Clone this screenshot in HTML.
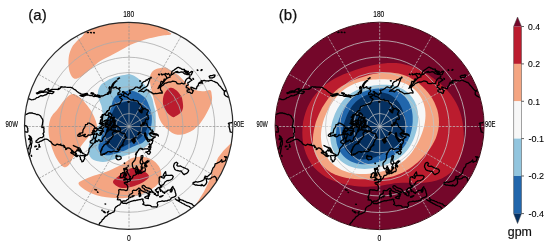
<!DOCTYPE html>
<html><head><meta charset="utf-8"><title>figure</title>
<style>
html,body{margin:0;padding:0;background:#fff;}
body{width:550px;height:248px;overflow:hidden;}
svg{display:block;}
text{font-family:"Liberation Sans",sans-serif;fill:#222;}
.lb{font-size:9px;fill:#000;stroke:#000;stroke-width:0.15px;}
.cb{font-size:8.8px;fill:#000;stroke:#000;stroke-width:0.1px;}
.ti{font-size:15px;fill:#111;stroke:#111;stroke-width:0.25px;}
.gp{font-size:12.4px;fill:#111;stroke:#111;stroke-width:0.2px;}
</style></head><body>
<svg width="550" height="248" viewBox="0 0 550 248">
<defs>
<clipPath id="ca"><ellipse cx="128.7" cy="125.85" rx="104.2" ry="103.5"/></clipPath>
<clipPath id="cb"><ellipse cx="379.6" cy="125.9" rx="104.5" ry="103.7"/></clipPath>
</defs>
<rect width="550" height="248" fill="#ffffff"/>
<g clip-path="url(#ca)">
<ellipse cx="128.7" cy="125.85" rx="104.2" ry="103.5" fill="#f7f7f7"/>
<path d="M84.8,32.1 C84.2,36.1 78.4,39.3 76.3,41.8 C74.2,44.3 73.3,44.8 72.1,47.0 C70.9,49.2 69.7,52.1 69.1,55.1 C68.5,58.1 68.3,62.2 68.5,65.2 C68.7,68.2 69.2,71.0 70.1,73.2 C71.0,75.4 72.4,77.9 74.1,78.6 C75.8,79.3 78.2,78.3 80.2,77.3 C82.2,76.3 84.2,74.4 86.2,72.8 C88.2,71.2 90.0,69.5 92.3,67.5 C94.6,65.5 97.3,62.9 100.3,61.0 C103.2,59.1 106.5,57.8 110.0,56.0 C113.5,54.2 117.7,51.8 121.0,50.0 C124.3,48.2 126.8,46.5 130.0,45.0 C133.2,43.5 136.8,42.4 140.0,41.3 C143.2,40.2 145.8,39.2 149.4,38.3 C153.0,37.4 157.9,36.4 161.5,35.7 C165.1,35.0 170.4,35.2 171.2,34.0 C172.0,32.8 166.5,31.7 166.3,28.5 C166.1,25.3 176.4,18.4 170.0,15.0 C163.6,11.6 143.0,7.5 128.0,8.0 C113.0,8.5 87.2,14.0 80.0,18.0 C72.8,22.0 85.4,28.1 84.8,32.1Z" fill="#f4a582"/>
<path d="M71.5,94.2 C73.9,93.6 76.3,95.0 78.7,96.6 C81.1,98.2 83.8,101.3 86.0,103.9 C88.2,106.5 90.4,109.6 92.0,112.4 C93.6,115.2 94.9,118.2 95.7,120.8 C96.5,123.4 97.2,126.1 96.9,128.0 C96.6,129.9 95.0,130.9 94.0,132.0 C93.0,133.1 92.7,132.5 90.8,134.5 C88.9,136.5 85.2,140.6 82.4,144.2 C79.6,147.8 76.1,152.9 73.9,156.3 C71.7,159.7 70.6,163.0 69.0,164.8 C67.4,166.6 66.0,167.8 64.2,167.2 C62.4,166.6 60.0,163.8 58.2,161.2 C56.4,158.6 54.7,155.1 53.3,151.5 C51.9,147.9 50.5,143.0 49.7,139.4 C48.9,135.8 48.5,132.9 48.5,129.7 C48.5,126.5 49.3,122.5 50.0,120.0 C50.7,117.5 51.3,116.7 52.5,115.0 C53.7,113.3 55.0,112.5 57.0,110.0 C59.0,107.5 61.8,102.9 64.2,100.3 C66.6,97.7 69.1,94.8 71.5,94.2Z" fill="#f4a582"/>
<path d="M159.4,68.3 C161.3,67.8 163.2,67.2 165.0,67.5 C166.8,67.8 167.8,68.7 170.0,70.0 C172.2,71.3 175.8,73.2 178.1,75.1 C180.4,76.9 182.1,79.1 184.1,81.1 C186.1,83.1 188.2,85.7 190.2,87.2 C192.2,88.7 193.8,89.5 196.2,90.2 C198.5,90.9 202.0,91.2 204.3,91.2 C206.7,91.2 209.1,89.5 210.3,90.2 C211.6,90.9 211.5,93.6 211.8,95.2 C212.1,96.8 212.2,98.4 212.0,100.0 C211.8,101.6 211.2,103.3 210.6,105.0 C210.0,106.7 209.1,108.4 208.3,110.0 C207.5,111.6 206.8,113.0 205.8,114.7 C204.8,116.4 203.6,118.4 202.5,120.0 C201.4,121.6 200.5,123.2 199.4,124.4 C198.3,125.7 197.1,126.5 196.0,127.5 C194.9,128.5 194.2,129.5 192.9,130.3 C191.7,131.1 189.8,131.9 188.5,132.5 C187.2,133.1 186.2,133.6 184.8,134.0 C183.4,134.4 181.8,134.8 180.0,134.8 C178.2,134.8 176.3,135.0 173.9,133.8 C171.5,132.6 167.7,129.8 165.4,127.5 C163.1,125.2 161.5,123.2 160.0,120.0 C158.5,116.8 157.7,112.4 156.5,108.4 C155.3,104.5 154.0,100.3 153.0,96.3 C152.0,92.3 150.8,87.6 150.3,84.2 C149.8,80.8 149.7,78.3 150.2,76.0 C150.7,73.7 152.0,71.8 153.5,70.5 C155.0,69.2 157.5,68.8 159.4,68.3Z" fill="#f4a582"/>
<path d="M78.5,183.0 C78.9,181.6 81.9,180.8 84.5,179.6 C87.1,178.4 90.6,176.9 94.2,175.6 C97.8,174.3 102.3,173.4 106.3,171.8 C110.3,170.2 115.3,167.8 118.4,166.3 C121.5,164.8 122.7,164.2 125.0,162.8 C127.3,161.4 128.9,159.0 132.1,158.0 C135.3,157.0 140.6,156.5 144.2,157.0 C147.8,157.5 151.3,159.0 153.9,160.9 C156.5,162.8 158.8,165.6 160.0,168.2 C161.2,170.8 161.6,173.9 161.2,176.6 C160.8,179.3 159.5,182.2 157.5,184.5 C155.5,186.8 152.0,188.8 149.0,190.5 C146.0,192.2 142.6,193.8 139.4,195.0 C136.2,196.2 132.9,196.9 129.7,197.5 C126.5,198.1 123.1,198.2 120.0,198.3 C116.9,198.4 114.3,198.1 111.2,197.8 C108.1,197.5 104.7,197.2 101.5,196.5 C98.3,195.8 95.0,194.9 91.8,193.5 C88.6,192.1 84.3,189.6 82.1,187.8 C79.9,186.1 78.1,184.4 78.5,183.0Z" fill="#f4a582"/>
<polygon points="229.6,144.5 223.6,150.6 218,157.8 214.6,166.3 212.3,172 209.7,179.7 206.2,187 203.9,191.8 197.8,201.5 195.2,205.5 215,215 240,170 236,140" fill="#f4a582"/>
<path d="M170.3,87.8 C172.3,87.2 174.5,88.9 176.3,90.3 C178.1,91.7 180.1,94.5 181.2,96.3 C182.2,98.1 182.3,99.5 182.6,101.3 C182.9,103.1 183.2,105.4 183.1,107.0 C183.0,108.6 182.5,110.0 182.0,111.0 C181.5,112.0 181.0,112.5 180.0,113.3 C179.0,114.1 177.2,115.4 176.0,116.0 C174.8,116.6 174.3,117.6 172.7,116.9 C171.1,116.2 168.2,114.2 166.6,112.0 C165.0,109.8 163.4,106.6 163.0,103.6 C162.6,100.6 163.0,96.5 164.2,93.9 C165.4,91.3 168.3,88.4 170.3,87.8Z" fill="#bb1c2e"/>
<path d="M113.0,182.0 C113.0,180.2 116.4,177.9 118.4,176.2 C120.4,174.5 122.7,173.4 125.0,172.0 C127.3,170.6 129.2,168.3 132.0,168.0 C134.8,167.7 139.0,168.7 141.8,170.0 C144.6,171.3 148.6,174.1 149.0,176.0 C149.4,177.9 146.6,179.8 144.2,181.5 C141.8,183.2 137.7,184.9 134.5,186.0 C131.3,187.1 127.7,187.8 125.0,188.0 C122.3,188.2 120.4,188.0 118.4,187.0 C116.4,186.0 113.0,183.8 113.0,182.0Z" fill="#bb1c2e"/>
<path d="M130.0,74.3 C132.0,74.6 134.0,75.8 136.0,77.1 C138.0,78.4 140.3,80.1 142.1,81.9 C143.9,83.7 145.6,86.0 146.9,88.0 C148.2,90.0 149.1,92.2 150.0,94.0 C150.9,95.8 151.9,97.2 152.5,99.0 C153.1,100.8 153.2,102.8 153.7,105.0 C154.2,107.2 155.1,109.7 155.4,112.0 C155.7,114.3 155.7,116.7 155.7,119.0 C155.7,121.3 155.7,123.8 155.4,126.0 C155.1,128.2 154.4,130.1 153.7,132.1 C153.0,134.1 152.0,136.2 151.2,138.1 C150.4,140.0 150.1,141.9 148.9,143.5 C147.7,145.1 145.9,146.3 144.1,147.5 C142.3,148.7 140.0,149.6 138.0,150.5 C136.0,151.4 134.2,152.1 132.2,152.9 C130.2,153.7 128.1,154.5 126.1,155.2 C124.1,155.9 122.1,156.6 120.1,157.3 C118.1,158.0 116.0,158.6 114.0,159.3 C112.0,160.0 109.8,160.9 108.0,161.3 C106.2,161.8 104.7,162.0 103.0,162.0 C101.3,162.0 99.8,161.8 98.0,161.3 C96.2,160.9 93.9,160.3 92.5,159.3 C91.1,158.3 90.2,157.1 89.5,155.5 C88.8,153.9 88.5,151.9 88.5,150.0 C88.5,148.1 88.8,146.0 89.3,144.0 C89.8,142.0 90.5,140.2 91.5,138.0 C92.5,135.8 93.9,133.7 95.5,131.0 C97.1,128.3 99.8,124.8 101.0,122.0 C102.2,119.2 102.4,116.7 102.5,114.0 C102.6,111.3 102.1,108.5 101.5,106.0 C100.9,103.5 99.4,101.2 98.8,99.0 C98.2,96.8 97.5,95.0 97.8,92.7 C98.1,90.5 98.9,87.5 100.5,85.5 C102.1,83.5 104.8,82.0 107.3,80.5 C109.8,79.0 112.9,77.7 115.7,76.8 C118.5,75.9 121.8,75.4 124.2,75.0 C126.6,74.6 128.0,74.0 130.0,74.3Z" fill="#92c5de"/>
<path d="M130.0,90.5 C131.6,90.6 133.9,91.1 135.6,91.7 C137.3,92.3 138.3,92.8 140.0,94.0 C141.7,95.2 144.2,96.8 145.7,98.6 C147.1,100.4 147.8,102.5 148.7,104.7 C149.6,106.9 150.7,109.5 151.2,111.9 C151.7,114.3 151.9,116.9 151.9,119.2 C151.9,121.5 151.6,123.8 151.2,126.0 C150.8,128.2 149.9,130.1 149.2,132.1 C148.5,134.1 148.1,136.4 147.1,138.1 C146.1,139.8 144.4,141.3 142.9,142.4 C141.4,143.5 139.8,143.8 138.0,144.6 C136.2,145.4 134.2,146.2 132.2,147.1 C130.2,148.0 128.1,149.2 126.1,150.1 C124.1,151.0 122.1,151.8 120.1,152.5 C118.1,153.2 116.1,153.5 114.0,154.0 C111.9,154.5 109.8,155.3 107.7,155.3 C105.7,155.3 103.2,155.0 101.7,154.1 C100.2,153.2 99.2,151.3 98.7,149.8 C98.2,148.3 98.4,146.6 98.7,145.0 C99.0,143.4 99.7,142.7 100.5,140.2 C101.3,137.7 102.5,133.2 103.5,130.2 C104.5,127.2 105.5,124.9 106.5,122.0 C107.5,119.1 108.7,115.7 109.5,113.0 C110.3,110.3 110.9,108.2 111.5,106.0 C112.1,103.8 112.4,101.5 113.0,100.0 C113.6,98.5 114.2,97.9 115.0,97.0 C115.8,96.1 116.8,95.2 118.0,94.5 C119.2,93.8 120.7,93.1 122.0,92.6 C123.3,92.1 124.7,91.6 126.0,91.3 C127.3,91.0 128.4,90.4 130.0,90.5Z" fill="#2166ac"/>
<path d="M128.3,101.3 C130.7,101.1 133.3,101.4 135.6,102.0 C137.9,102.6 140.2,103.0 142.1,104.7 C144.0,106.4 145.9,109.5 146.9,111.9 C147.9,114.3 148.1,116.9 148.3,119.2 C148.5,121.5 148.4,123.8 147.9,126.0 C147.4,128.2 146.6,130.3 145.5,132.1 C144.4,133.9 142.5,135.6 141.1,136.9 C139.7,138.2 138.3,139.2 136.8,140.0 C135.3,140.8 134.0,140.8 132.2,141.7 C130.4,142.6 128.1,144.2 126.1,145.3 C124.1,146.4 122.1,147.6 120.1,148.3 C118.1,149.0 115.9,149.7 114.0,149.6 C112.1,149.5 109.9,148.6 108.5,147.5 C107.1,146.4 106.1,144.8 105.5,143.0 C104.9,141.2 104.9,139.2 105.0,137.0 C105.1,134.8 105.4,132.3 106.0,130.0 C106.6,127.7 107.7,125.3 108.5,123.0 C109.3,120.7 110.2,118.2 111.0,116.0 C111.8,113.8 112.6,111.8 113.5,110.0 C114.4,108.2 115.2,106.6 116.5,105.5 C117.8,104.4 119.0,103.9 121.0,103.2 C123.0,102.5 125.9,101.5 128.3,101.3Z" fill="#053061"/>
<circle cx="129.0" cy="126.5" r="85.75" fill="none" stroke="#ababab" stroke-width="0.8"/>
<circle cx="129.0" cy="126.5" r="69.26" fill="none" stroke="#ababab" stroke-width="0.8"/>
<circle cx="129.0" cy="126.5" r="54.06" fill="none" stroke="#ababab" stroke-width="0.8"/>
<circle cx="129.0" cy="126.5" r="39.80" fill="none" stroke="#ababab" stroke-width="0.8"/>
<circle cx="129.0" cy="126.5" r="12.99" fill="none" stroke="#ababab" stroke-width="0.7"/>
<circle cx="129.0" cy="126.5" r="26.19" fill="none" stroke="#ababab" stroke-width="0.7"/>
<line x1="129.00" y1="100.31" x2="129.00" y2="152.69" stroke="#ababab" stroke-width="0.7"/>
<line x1="115.91" y1="103.82" x2="142.09" y2="149.18" stroke="#ababab" stroke-width="0.7"/>
<line x1="106.32" y1="113.41" x2="151.68" y2="139.59" stroke="#ababab" stroke-width="0.7"/>
<line x1="102.81" y1="126.50" x2="155.19" y2="126.50" stroke="#ababab" stroke-width="0.7"/>
<line x1="106.32" y1="139.59" x2="151.68" y2="113.41" stroke="#ababab" stroke-width="0.7"/>
<line x1="115.91" y1="149.18" x2="142.09" y2="103.82" stroke="#ababab" stroke-width="0.7"/>
<line x1="129.00" y1="152.69" x2="129.00" y2="233.50" stroke="#8f8f8f" stroke-width="0.7" stroke-dasharray="2.4 1.2"/>
<line x1="142.09" y1="149.18" x2="182.50" y2="219.16" stroke="#8f8f8f" stroke-width="0.7" stroke-dasharray="2.4 1.2"/>
<line x1="151.68" y1="139.59" x2="221.66" y2="180.00" stroke="#8f8f8f" stroke-width="0.7" stroke-dasharray="2.4 1.2"/>
<line x1="155.19" y1="126.50" x2="236.00" y2="126.50" stroke="#8f8f8f" stroke-width="0.7" stroke-dasharray="2.4 1.2"/>
<line x1="151.68" y1="113.41" x2="221.66" y2="73.00" stroke="#8f8f8f" stroke-width="0.7" stroke-dasharray="2.4 1.2"/>
<line x1="142.09" y1="103.82" x2="182.50" y2="33.84" stroke="#8f8f8f" stroke-width="0.7" stroke-dasharray="2.4 1.2"/>
<line x1="129.00" y1="100.31" x2="129.00" y2="19.50" stroke="#8f8f8f" stroke-width="0.7" stroke-dasharray="2.4 1.2"/>
<line x1="115.91" y1="103.82" x2="75.50" y2="33.84" stroke="#8f8f8f" stroke-width="0.7" stroke-dasharray="2.4 1.2"/>
<line x1="106.32" y1="113.41" x2="36.34" y2="73.00" stroke="#8f8f8f" stroke-width="0.7" stroke-dasharray="2.4 1.2"/>
<line x1="102.81" y1="126.50" x2="22.00" y2="126.50" stroke="#8f8f8f" stroke-width="0.7" stroke-dasharray="2.4 1.2"/>
<line x1="106.32" y1="139.59" x2="36.34" y2="180.00" stroke="#8f8f8f" stroke-width="0.7" stroke-dasharray="2.4 1.2"/>
<line x1="115.91" y1="149.18" x2="75.50" y2="219.16" stroke="#8f8f8f" stroke-width="0.7" stroke-dasharray="2.4 1.2"/>
<path d="M27.8,98.8 L29.7,99.0 L31.5,99.8 L32.6,99.7 L33.7,99.5 L35.5,98.8 L36.7,97.6 L38.2,97.4 L39.8,96.3 L40.9,95.6 L42.5,96.0 L43.5,95.7 L44.7,95.0 L45.7,94.9 L46.8,94.1 L48.2,93.3 L49.7,93.3 L50.8,93.4 L52.0,93.7 L53.2,92.9 L54.0,91.8 L52.5,91.3 L50.5,91.2 L49.3,91.5 L48.3,91.9 L47.1,92.1 L46.0,91.9 L44.9,92.0 L43.6,92.5 L42.3,92.1 L41.1,92.4 L39.1,93.1 L37.1,93.8 L36.4,93.0 L38.2,92.4 L39.4,91.6 L40.2,91.2 L42.2,91.1 L43.7,91.3 L45.3,89.9 L46.9,88.9 L47.7,88.8 L48.0,90.3 L49.8,90.2 L51.0,90.0 L51.9,89.4 L53.6,89.4 L55.4,89.3 L56.8,89.4 L58.3,89.5 L59.4,88.9 L60.4,88.0 L61.7,86.7 L63.0,87.2 L64.9,86.9 L66.1,87.2 L67.5,87.3 L68.6,87.3 L70.7,87.4 L72.3,87.8 L73.6,89.0 L75.3,89.8 L76.8,91.2 L77.7,91.9 L78.6,92.6 L79.6,93.2 L81.0,93.9 L82.5,94.3 L81.7,95.2 L81.2,95.7 L80.0,95.3 L80.8,96.0 L82.1,96.4 L82.9,96.3 L84.4,95.9 L85.5,95.4 L86.9,94.8 L88.4,95.0 L89.6,95.5 L91.1,95.5 L92.5,95.6 L93.4,96.5 L94.6,96.0 L95.9,96.4 L97.6,96.7 L98.7,97.0 L100.2,97.4 L99.8,96.3 L100.9,95.8 L102.0,96.0 L103.0,95.8 L104.1,95.4 L105.1,94.8 L106.1,94.3 L107.4,94.4 L108.4,94.1 L108.4,92.9 L108.8,91.9 L109.5,90.7 L110.1,91.8 L109.9,93.5 L110.7,92.7 L110.9,91.4 L110.9,90.1 L111.1,89.3 L111.3,87.6 L111.8,85.9 L112.4,84.4 L113.6,82.9 L114.9,81.7 L116.3,80.8 L115.4,82.1 L114.2,83.4 L113.4,84.8 L112.8,86.5 L112.9,88.1 L113.8,87.9 L114.8,87.4 L116.1,86.8 L116.4,88.2 L117.3,88.2 L118.6,89.0 L119.6,90.0 L120.0,90.9 L119.7,92.1 L118.6,92.5 L117.9,93.3 L117.9,94.8 L118.9,94.4 L120.0,94.1 L121.1,94.1 L121.7,94.9 L122.3,95.1 L121.7,95.9 L120.7,96.7 L119.8,96.4 L119.3,96.9 L119.9,97.7 L120.9,98.4 L121.8,98.8 L122.4,99.6 L121.6,100.0 L121.2,101.1 L120.8,102.0 L120.2,103.0 L119.3,104.0 L118.2,103.9 L117.2,104.3 L116.0,104.5 L114.7,104.9 L113.5,105.6 L112.3,105.8 L111.4,106.2 L110.2,106.4 L110.0,107.2 L109.5,108.0 L109.2,109.3 L108.9,110.5 L107.6,110.7 L107.4,111.7 L106.6,111.4 L106.6,112.5 L105.5,113.2 L104.5,114.0 L103.4,114.6 L102.4,114.6 L101.9,115.8 L101.5,116.8 L100.5,117.2 L101.9,117.7 L102.1,118.5 L101.2,119.3 L100.5,120.4 L100.4,121.5 L100.2,122.3 L101.0,122.8 L100.6,123.5 L99.3,123.5 L100.5,124.0 L101.3,124.7 L102.5,124.4 L103.4,123.7 L104.7,123.8 L105.4,124.6 L104.6,125.2 L103.2,125.4 L102.3,125.8 L101.1,126.3 L101.7,126.7 L101.0,127.5 L99.6,127.5 L99.2,128.1 L100.5,128.2 L101.8,128.6 L102.7,129.0 L102.6,130.0 L101.9,130.5 L100.7,130.7 L99.3,130.5 L98.0,130.0 L98.1,128.9 L97.2,128.4 L96.4,127.9 L95.0,127.7 L94.4,126.5 L93.4,125.6 L92.0,124.6 L90.7,123.8 L89.3,123.2 L87.7,123.2 L87.4,124.3 L85.5,124.6 L85.3,125.7 L84.7,127.3 L83.8,128.5 L83.0,130.1 L82.8,131.8 L82.7,132.8 L81.7,132.8 L80.5,133.1 L78.8,134.0 L77.7,135.1 L77.9,136.0 L79.3,136.3 L81.4,135.8 L82.5,135.1 L83.9,136.1 L85.6,136.8 L87.1,136.3 L88.3,134.9 L89.9,135.2 L91.5,134.6 L93.2,134.1 L93.6,135.3 L93.7,136.6 L93.4,138.1 L92.9,139.3 L91.8,140.3 L90.3,141.0 L90.2,142.2 L91.0,143.0 L92.3,143.2 L93.4,143.3 L92.4,144.8 L91.5,146.0 L90.3,147.4 L89.3,148.5 L88.9,150.1 L88.9,151.5 L88.2,153.0 L87.7,154.6 L86.7,155.2 L85.5,154.7 L84.2,154.0 L82.6,153.3 L81.7,151.7 L80.8,150.0 L79.8,148.1 L78.2,147.5 L76.2,146.8 L74.3,146.1 L73.3,145.5 L75.1,146.3 L76.9,147.3 L78.2,148.6 L79.0,150.3 L78.2,151.0 L77.1,149.8 L76.5,151.0 L75.4,151.7 L75.2,153.0 L75.6,154.5 L76.9,155.4 L78.2,155.5 L77.1,156.6 L75.6,156.1 L74.3,155.0 L73.3,154.1 L71.8,153.4 L70.8,152.7 L71.7,151.8 L73.2,152.5 L74.4,152.5 L73.2,151.6 L72.4,150.5 L71.7,150.6 L70.8,149.1 L69.5,148.2 L68.0,147.8 L67.0,148.2 L66.6,149.2 L66.0,148.5 L65.1,147.3 L64.1,145.7 L63.3,145.3 L62.0,145.7 L60.6,145.1 L60.9,144.1 L59.8,144.9 L58.0,144.5 L57.1,144.0 L56.5,144.6 L55.1,145.5 L53.3,144.7 L51.8,143.3 L51.0,141.9 L49.5,141.1 L47.9,139.6 L46.3,139.2 L44.9,139.2 L42.9,140.1 L41.5,141.0 L40.2,141.3 L39.3,142.1 L37.2,142.5 L36.0,142.1 L36.0,140.9 L37.5,139.7 L38.8,138.5 L40.3,137.7 L42.2,137.6 L43.5,136.2 L43.7,135.0 L43.0,133.6 L44.1,132.1 L43.8,130.2 L44.0,128.3 L43.6,127.1 L41.9,127.6 L41.9,126.0 L42.4,124.5 L42.6,122.7 L42.9,120.8 L42.5,119.2 L41.4,117.6 L40.6,116.0 L39.2,115.0 L38.1,114.5 L36.9,114.7 L35.2,113.8 L34.2,113.6 L33.1,113.4 L31.9,112.8 L30.7,113.0 L29.6,112.9 L28.3,113.4 L26.3,114.3 L25.4,114.8 L24.3,115.1 L23.0,116.3 L21.8,118.1 L22.1,120.0 L22.3,121.1 L22.4,122.2 L22.7,124.1 L24.0,125.2 L26.0,125.8 L27.1,126.5 L27.2,127.5 L27.9,128.6 L27.6,129.8 L28.0,130.9 L27.6,132.2 L26.1,132.1 L24.3,131.1 L22.2,130.8 M29.0,135.4 L30.7,136.8 L31.7,138.8 L31.5,139.9 L32.0,141.0 L31.9,143.1 L31.4,144.2 L31.4,145.5 L31.3,146.8 L30.8,148.3 L30.2,149.6 L30.3,151.1 L30.0,152.3 L29.8,153.5 L29.3,154.7 L28.3,153.1 L27.9,151.9 L27.7,150.8 L27.2,148.7 L28.6,148.8 L29.0,146.9 L29.2,145.8 L29.9,144.9 L30.5,143.5 L30.2,142.1 L30.2,141.0 L30.7,140.0 L29.9,138.1 L29.8,136.8 L29.0,135.4Z M26.0,155.3 L27.6,155.4 L29.0,156.3 L29.8,158.4 L30.5,160.4 L30.5,161.5 L30.7,162.7 L30.2,164.8 L29.6,165.9 M101.0,155.0 L100.9,153.1 L100.5,151.7 L101.2,149.9 L101.6,148.9 L102.2,147.9 L103.3,146.4 L104.5,144.6 L105.8,143.7 L107.1,143.9 L108.1,143.4 L107.6,142.9 L108.0,141.5 L109.1,142.0 L109.1,140.5 L110.2,139.4 L111.4,138.2 L112.4,136.9 L113.2,135.8 L113.1,134.8 L112.3,133.9 L112.4,133.0 L113.0,132.0 L113.9,132.2 L114.4,131.1 L115.3,131.5 L116.2,132.2 L117.2,132.0 L117.4,131.3 L118.6,131.6 L119.8,131.8 L120.7,132.3 L121.4,132.8 L122.3,133.2 L123.3,133.3 L124.5,133.5 L125.1,134.1 L125.5,135.2 L124.8,135.9 L125.5,136.7 L126.4,137.1 L126.6,137.9 L125.6,138.4 L124.9,139.2 L124.1,140.2 L123.8,141.6 L123.0,142.6 L122.9,143.7 L122.2,144.8 L122.3,145.7 L121.3,145.9 L120.5,147.0 L119.6,147.6 L119.9,148.8 L119.5,150.0 L118.6,149.4 L117.5,149.6 L118.6,150.5 L118.0,151.3 L116.5,151.6 L115.2,151.4 L114.0,151.0 L112.8,151.4 L111.5,152.0 L110.1,152.0 L109.0,151.6 L107.9,151.6 L106.9,152.4 L105.4,153.2 L103.8,154.0 L102.4,155.0 L101.0,155.0Z M101.0,155.0 L100.8,154.0 L100.9,153.1 L100.5,151.7 L101.6,150.5 L101.2,149.9 L102.0,149.4 L102.2,147.9 L102.5,146.8 L103.3,146.4 L103.9,145.0 L104.5,144.6 L104.9,144.5 L105.8,143.7 L107.1,143.9 L108.1,143.4 L107.6,142.9 L108.0,141.5 L109.1,142.0 L109.1,140.5 L110.2,139.4 L110.9,139.0 L111.4,138.2 L111.8,137.4 L112.4,136.9 L113.2,135.8 L113.1,134.8 L112.3,133.9 L112.4,133.0 L113.0,132.0 L113.9,132.2 L114.4,131.1 L115.3,131.5 L116.2,132.2 L117.2,132.0 L117.4,131.3 L118.6,131.6 L119.8,131.8 L120.7,132.3 L121.4,132.8 L122.3,133.2 L123.3,133.3 L124.5,133.5 L125.1,134.1 L125.5,135.2 L124.8,135.9 L125.5,136.7 L126.4,137.1 L126.6,137.9 L125.6,138.4 L124.9,139.2 L124.1,140.2 L123.8,141.6 L123.0,142.6 L122.9,143.7 L122.2,144.8 L122.3,145.7 L121.3,145.9 L120.5,147.0 L119.6,147.6 L119.9,148.8 L119.5,150.0 L118.6,149.4 L117.5,149.6 L118.6,150.5 L118.0,151.3 L116.5,151.6 L115.2,151.4 L114.0,151.0 L112.8,151.4 L111.5,152.0 L110.1,152.0 L109.0,151.6 L107.9,151.6 L106.9,152.4 L106.5,153.0 L105.4,153.2 L104.4,154.3 L103.8,154.0 L102.8,153.9 L102.4,155.0 L101.0,155.0Z M116.2,158.3 L116.1,157.2 L115.9,156.0 L116.8,155.2 L117.2,156.5 L118.0,156.1 L119.1,156.2 L120.2,156.3 L120.9,157.0 L121.3,158.2 L120.6,159.2 L119.2,159.6 L117.9,159.8 L116.8,159.1 L116.2,158.3Z M95.0,142.6 L95.0,141.3 L95.3,139.8 L95.6,138.3 L96.3,136.8 L96.6,135.5 L96.0,134.1 L96.8,133.3 L97.7,134.3 L98.7,135.2 L100.1,135.3 L101.2,134.5 L101.9,133.3 L102.5,131.9 L103.6,131.4 L103.0,130.4 L102.9,129.0 L103.2,127.8 L104.1,126.9 L105.5,126.6 L107.2,126.7 L107.9,127.6 L107.7,128.6 L107.9,129.5 L107.0,130.1 L107.0,131.0 L106.9,131.8 L106.2,132.8 L105.7,134.1 L105.1,135.2 L104.7,136.3 L103.6,137.0 L102.9,138.1 L102.7,139.3 L102.3,140.7 L101.6,141.4 L100.0,141.3 L99.9,140.1 L98.6,139.7 L97.9,141.0 L97.0,141.6 L96.4,140.7 L95.6,141.9 L95.0,142.6Z M95.0,142.6 L95.0,141.3 L95.3,139.8 L95.6,138.3 L95.4,137.6 L96.3,136.8 L96.6,135.5 L96.0,134.1 L96.8,133.3 L97.7,134.3 L98.7,135.2 L100.1,135.3 L101.2,134.5 L101.9,133.3 L102.5,131.9 L103.6,131.4 L103.0,130.4 L102.9,129.0 L103.2,127.8 L104.1,126.9 L105.5,126.6 L106.3,127.3 L107.2,126.7 L107.9,127.6 L107.7,128.6 L107.9,129.5 L107.0,130.1 L107.0,131.0 L106.9,131.8 L106.2,132.8 L105.7,134.1 L105.1,135.2 L104.7,136.3 L103.6,137.0 L102.9,138.1 L102.7,139.3 L102.3,140.7 L101.6,141.4 L100.0,141.3 L99.9,140.1 L98.6,139.7 L97.9,141.0 L97.0,141.6 L96.4,140.7 L95.6,141.9 L95.0,142.6Z M105.3,114.2 L105.7,115.4 L107.2,115.1 L108.7,115.5 L109.0,116.8 L108.3,117.7 L107.9,118.8 L108.1,119.7 L107.4,120.5 L105.6,120.3 L104.1,121.0 L102.9,121.4 L102.0,120.5 L102.4,119.4 L102.5,118.1 L102.6,116.9 L103.0,115.5 L104.2,114.6 L105.3,114.2Z M105.3,114.2 L105.7,115.4 L107.2,115.1 L108.7,115.5 L109.0,116.8 L108.3,117.7 L107.9,118.8 L108.1,119.7 L107.4,120.5 L106.5,119.8 L105.6,120.3 L104.9,121.1 L104.1,121.0 L102.9,121.4 L102.0,120.5 L102.4,119.4 L102.5,118.1 L102.6,116.9 L103.0,115.5 L104.2,114.6 L105.3,114.2Z M109.8,112.8 L108.6,113.0 L108.3,114.3 L109.0,115.7 L109.5,117.0 L110.7,117.0 L111.7,116.1 L111.9,115.0 L111.0,114.0 L109.8,112.8Z M109.8,112.8 L108.6,113.0 L108.3,114.3 L109.0,115.7 L109.5,117.0 L110.7,117.0 L111.7,116.1 L111.9,115.0 L111.0,114.0 L110.1,113.7 L109.8,112.8Z M111.7,130.2 L111.4,129.3 L111.5,128.0 L111.6,126.8 L112.9,127.1 L113.2,127.9 L114.1,127.3 L115.4,127.5 L116.4,126.9 L117.3,126.3 L118.4,126.9 L119.5,127.7 L120.2,128.7 L120.6,129.9 L120.5,131.0 L119.4,131.2 L118.4,131.0 L117.0,130.9 L115.9,130.4 L115.0,130.0 L113.9,130.4 L113.0,129.9 L111.7,130.2Z M111.7,130.2 L111.4,129.3 L111.5,128.0 L111.6,126.8 L112.9,127.1 L113.2,127.9 L114.1,127.3 L115.4,127.5 L116.4,126.9 L117.3,126.3 L118.4,126.9 L119.5,127.7 L120.2,128.7 L120.6,129.9 L120.5,131.0 L119.4,131.2 L118.4,131.0 L117.0,130.9 L115.9,130.4 L115.0,130.0 L113.9,130.4 L113.0,129.9 L111.7,130.2Z M109.4,130.0 L108.9,128.6 L108.9,127.2 L109.2,125.8 L110.8,125.7 L111.2,126.7 L110.7,128.1 L110.7,129.2 L110.3,129.9 L109.4,130.0Z M109.4,130.0 L108.9,128.6 L108.9,127.2 L109.2,125.8 L110.8,125.7 L111.2,126.7 L110.7,128.1 L110.7,129.2 L110.3,129.9 L109.4,130.0Z M110.2,121.1 L110.0,120.0 L110.4,118.6 L111.7,117.9 L112.8,118.2 L112.6,119.5 L112.5,120.8 L111.5,121.5 L110.2,121.1Z M110.2,121.1 L110.0,120.0 L110.4,118.6 L111.7,117.9 L112.8,118.2 L112.6,119.5 L112.5,120.8 L111.5,121.5 L110.2,121.1Z M105.7,124.3 L105.5,125.1 L106.8,126.4 L108.1,126.0 L108.3,124.9 L107.2,124.2 L105.7,124.3Z M105.7,124.3 L105.5,125.1 L105.9,126.2 L106.8,126.4 L108.1,126.0 L108.3,124.9 L107.2,124.2 L105.7,124.3Z M105.1,122.5 L105.9,123.7 L107.9,123.7 L108.2,122.6 L107.0,121.8 L105.1,122.5Z M105.1,122.5 L105.9,123.7 L106.9,124.3 L107.9,123.7 L108.2,122.6 L107.0,121.8 L106.3,122.4 L105.1,122.5Z M94.2,128.3 L93.8,129.6 L94.7,131.0 L94.6,132.2 L95.8,131.5 L97.1,129.9 L96.8,128.7 L95.6,128.3 L94.2,128.3Z M94.2,128.3 L93.8,129.6 L93.9,129.9 L94.7,131.0 L94.6,132.2 L95.8,131.5 L96.9,130.4 L97.1,129.9 L96.8,128.7 L95.6,128.3 L94.2,128.3Z M114.1,127.0 L114.2,126.0 L115.3,125.2 L116.9,125.7 L116.8,126.5 L115.5,127.2 L114.1,127.0Z M114.1,127.0 L114.2,126.0 L115.3,125.2 L116.0,126.0 L116.9,125.7 L116.8,126.5 L115.5,127.2 L114.1,127.0Z M79.5,155.9 L80.4,157.5 L80.5,159.5 L81.7,160.2 L81.8,161.8 L83.2,161.4 L83.8,160.0 L84.7,158.9 L84.3,157.2 L84.9,156.5 L86.0,155.5 L84.6,155.3 L82.8,155.6 L80.9,155.7 L79.5,155.9Z M87.5,93.7 L86.1,94.8 L84.8,95.3 L83.2,95.6 L81.9,95.4 L82.9,94.5 L84.7,94.0 L86.5,93.5 L87.5,93.7Z M110.2,87.5 L109.2,88.8 L108.9,87.9 L109.8,86.6 L110.2,87.5Z M93.9,93.8 L93.0,94.4 L91.9,93.6 L90.8,93.2 L92.2,93.1 L93.9,93.8Z M98.5,226.9 L98.9,225.6 L99.0,224.5 L99.7,223.1 L100.7,222.2 L101.8,221.1 L102.2,219.9 L103.2,219.2 L104.0,218.3 L104.9,217.1 L105.6,216.3 L106.9,215.8 L107.8,214.7 L109.2,213.7 L110.3,213.6 L111.8,212.8 L112.8,212.2 L113.9,212.0 L114.7,210.2 L114.8,208.5 L116.0,206.8 L117.0,206.3 L117.9,205.5 L119.7,204.8 L120.6,203.6 L121.0,202.9 L121.2,202.1 L122.0,202.0 L123.0,203.3 L125.0,203.2 L126.3,203.6 L127.7,202.7 L129.3,202.2 L131.0,201.3 L132.9,200.8 L134.2,200.5 L135.5,200.6 L136.7,200.2 L138.0,200.0 L139.2,199.6 L140.3,199.7 L141.8,199.0 L143.1,199.2 L142.7,200.3 L143.3,201.6 L143.9,203.0 L142.8,204.2 L143.9,204.7 L145.8,205.5 L147.5,205.2 L149.4,205.4 L150.6,205.6 L151.6,206.7 L152.9,206.8 L154.3,206.8 L155.5,206.8 L156.7,207.1 L157.7,205.5 L157.7,204.5 L157.1,203.3 L157.6,202.3 L158.6,201.7 L160.8,201.4 L162.4,200.9 L163.9,201.4 L165.4,200.8 L166.9,200.9 L168.4,200.2 L169.8,200.1 L170.9,198.5 L172.1,197.6 L173.7,197.2 L175.3,196.4 L176.0,195.4 L175.8,193.8 L175.3,192.6 L175.0,190.7 L174.1,188.9 L173.0,187.5 L172.9,186.5 L171.8,187.7 L171.1,189.0 L169.6,190.2 L168.4,190.1 L167.3,190.3 L167.0,191.4 L165.4,192.1 L163.9,192.2 L163.0,192.3 L162.3,191.2 L161.0,190.6 L160.7,189.3 L159.9,189.2 L159.6,188.6 L159.9,187.8 L161.2,187.1 L162.0,186.1 L161.8,185.4 L162.8,184.9 L163.7,184.3 L164.5,182.9 L165.0,182.0 L166.1,181.3 L166.9,180.7 L169.0,180.5 L170.7,179.8 L171.8,179.2 L172.5,178.4 L173.3,176.6 L172.3,175.4 L171.2,175.2 L170.0,175.4 L167.9,175.4 L166.3,175.4 L165.9,173.8 L165.6,171.7 L164.6,172.9 L163.7,174.3 L163.2,175.4 L164.2,176.2 L165.3,175.6 L164.7,176.6 L163.9,178.3 L163.0,177.8 L161.6,177.3 L162.1,176.5 L160.4,176.8 L159.4,177.2 L159.2,178.7 L159.3,179.7 L159.1,181.4 L159.2,183.3 L159.4,184.4 L160.4,185.4 L161.6,185.5 L160.8,186.3 L159.9,187.2 L159.2,187.9 L158.7,187.5 L157.7,188.0 L156.7,188.8 L156.5,189.7 L155.4,189.7 L156.0,191.1 L156.8,191.5 L157.0,192.4 L158.4,192.5 L158.2,193.1 L157.9,194.0 L158.3,195.4 L157.3,195.6 L156.4,195.5 L155.3,194.3 L155.4,193.5 L154.3,193.0 L152.9,192.0 L151.9,191.0 L151.2,189.6 L149.7,188.5 L147.8,188.0 L145.8,187.3 L144.3,185.8 L143.4,185.4 L142.1,186.1 L142.3,187.7 L144.0,188.5 L145.1,190.0 L146.7,190.2 L147.4,190.3 L147.5,191.0 L148.8,191.2 L150.9,191.9 L151.0,192.5 L149.1,192.1 L148.9,193.3 L149.8,194.2 L149.3,195.2 L149.0,196.3 L148.6,196.1 L148.6,194.9 L147.7,193.2 L146.5,192.5 L145.4,192.2 L144.1,192.0 L143.2,191.4 L141.5,190.7 L140.8,190.0 L140.2,188.9 L139.3,188.2 L138.6,188.2 L137.8,189.1 L137.3,189.3 L136.3,190.4 L134.6,190.4 L133.5,190.2 L132.6,190.7 L132.4,191.8 L132.7,192.7 L131.6,193.7 L129.9,194.5 L129.0,195.9 L128.6,196.7 L129.2,197.7 L128.1,199.3 L126.8,200.0 L126.1,200.8 L124.7,201.0 L123.3,200.8 L122.0,201.7 L121.1,201.4 L120.7,200.4 L120.0,199.7 L118.7,199.8 L117.4,199.6 L118.0,197.6 L117.2,196.8 L118.3,194.9 L118.8,193.1 L118.9,191.1 L118.6,190.1 L120.2,189.4 L121.3,189.8 L122.3,189.8 L123.6,189.8 L124.8,190.2 L125.9,190.5 L127.0,190.4 L127.7,188.6 L127.8,186.8 L127.0,185.0 L126.2,184.2 L124.7,183.7 L124.3,182.7 L125.6,182.2 L127.5,182.6 L127.3,181.0 L128.0,181.4 L129.2,181.3 L130.4,180.4 L130.5,179.2 L131.7,178.6 L132.6,177.5 L133.1,176.0 L133.7,175.4 L135.0,175.1 L136.2,174.5 L136.5,174.2 L136.0,172.8 L135.6,172.0 L135.3,170.3 L135.6,169.9 L136.5,169.0 L136.9,168.8 L137.1,170.5 L137.5,170.5 L136.8,171.9 L136.7,172.7 L137.3,173.3 L138.2,173.9 L139.0,173.4 L140.1,172.9 L140.9,173.4 L142.2,172.5 L144.0,171.2 L144.9,171.5 L145.2,170.9 L145.5,169.6 L144.9,167.8 L144.9,166.8 L145.5,166.2 L146.5,166.8 L147.0,166.3 L146.4,164.9 L145.5,164.5 L145.3,164.0 L146.1,163.2 L147.7,162.4 L148.1,161.7 L149.1,161.0 L148.2,161.1 L147.6,160.7 L146.8,161.3 L145.7,162.3 L144.6,163.3 L143.3,162.9 L142.7,161.6 L142.2,160.4 L142.0,159.4 L142.4,158.1 L142.8,156.7 L142.9,155.9 L142.2,155.5 L141.2,155.9 L141.1,157.1 L141.3,158.1 L140.7,159.5 L140.2,161.1 L140.2,162.5 L140.5,163.6 L141.5,164.0 L142.0,164.8 L141.7,165.7 L141.1,166.6 L141.3,168.0 L141.4,169.7 L140.4,170.5 L140.3,171.3 L139.4,171.6 L138.9,170.5 L138.1,169.5 L137.8,168.6 L137.0,166.9 L136.4,165.9 L136.3,166.9 L135.6,167.9 L134.9,168.5 L134.2,168.8 L133.1,167.8 L132.5,166.1 L132.3,164.1 L132.3,163.1 L133.1,162.2 L133.9,161.1 L134.7,160.6 L135.3,159.1 L135.8,157.3 L135.8,155.9 L136.3,154.7 L136.3,153.7 L136.8,152.9 L137.3,152.0 L137.5,151.3 L138.3,150.7 L138.8,149.6 L139.7,148.8 L140.7,148.4 L142.3,148.6 L142.0,149.5 L142.7,149.3 L143.8,149.2 L145.2,148.8 L146.7,148.8 L147.9,148.7 L149.0,149.5 L149.1,150.5 L148.4,151.3 L146.7,151.8 L145.7,152.2 L147.0,152.6 L148.2,154.1 L149.4,154.1 L149.9,153.2 L150.5,152.1 L149.7,151.2 L149.8,149.6 L150.7,149.0 L150.0,148.2 L148.5,146.9 L149.6,146.4 L150.9,147.3 L150.8,146.1 L151.0,145.0 L151.5,143.5 L152.1,143.3 L152.5,141.8 L152.8,140.8 L152.7,139.9 L151.7,139.6 L153.4,138.4 L154.1,137.7 L154.6,137.4 L155.4,136.9 L153.7,137.0 L152.5,136.6 L151.3,136.0 L149.9,134.7 L149.6,134.0 L150.4,133.3 L152.1,133.7 L153.9,134.6 L155.9,135.0 L157.3,134.9 L158.4,136.0 L158.0,134.8 L156.2,133.8 L154.2,133.7 L152.9,132.9 L151.6,133.0 L150.7,132.3 L151.9,131.8 L153.3,131.7 L152.1,131.0 L152.5,130.2 L150.5,129.9 L150.2,128.7 L149.8,127.6 L148.5,127.5 L147.6,126.2 L147.1,124.6 L146.3,123.4 L144.5,122.5 L144.9,121.9 L145.5,121.1 L145.3,119.9 L146.3,119.0 L148.0,119.6 L148.6,118.6 L148.6,117.8 L148.0,116.4 L148.2,115.4 L146.6,114.6 L147.3,112.7 L148.3,110.9 L148.0,110.0 L146.7,110.0 L145.8,109.1 L144.9,108.2 L143.7,109.0 L142.8,108.2 L141.6,107.1 L141.1,105.6 L140.7,104.4 L139.1,103.8 L138.6,102.9 L138.0,101.9 L137.7,101.1 L135.9,100.7 L134.4,100.9 L133.5,100.7 L133.3,99.3 L132.2,100.1 L130.9,100.0 L129.0,98.8 L127.5,97.4 L126.4,96.8 L124.8,96.6 L123.4,95.6 L123.6,94.4 L124.3,93.2 L124.9,92.9 L125.9,93.6 L126.8,94.3 L128.2,95.2 L129.0,93.6 L129.9,93.0 L130.5,93.2 L130.1,92.1 L129.6,90.8 L129.3,90.2 L130.9,90.2 L132.9,89.4 L134.3,88.5 L135.6,87.2 L137.2,87.1 L138.6,87.9 L140.0,88.0 L140.8,87.0 L141.5,85.8 L142.2,85.7 L141.8,83.7 L143.0,82.2 L143.7,81.7 L145.5,81.2 L146.2,79.9 L147.3,80.0 L148.8,78.6 L149.8,78.2 L149.8,79.3 L149.5,80.4 L148.8,81.9 L148.6,83.2 L147.9,84.5 L147.5,85.8 L145.8,87.0 L143.9,87.8 L142.3,89.0 L141.3,89.7 L139.6,90.7 L138.7,91.5 L140.2,90.9 L141.5,91.3 L142.2,91.2 L143.6,92.0 L145.1,90.7 L146.2,89.7 L147.3,90.0 L148.3,90.1 L149.2,91.6 L150.6,91.9 L152.1,92.9 L153.9,94.0 L155.3,93.4 L156.6,93.6 L158.2,93.3 L159.7,93.0 L160.9,93.0 L162.2,93.1 L162.2,92.1 L161.6,90.9 L160.7,90.1 L160.4,88.4 L160.8,86.8 L161.7,86.0 L162.9,85.4 L164.1,84.0 L164.9,83.2 L166.0,83.1 L167.2,82.6 L168.8,82.0 L170.2,82.2 L171.6,81.7 L172.8,81.2 L174.1,81.4 L175.4,81.6 L176.5,82.2 L177.0,83.5 L178.7,83.8 L180.5,83.8 L181.6,83.1 L183.6,83.9 L184.8,83.7 L185.1,81.9 L185.5,80.9 L186.2,79.5 L187.7,78.3 L189.0,77.9 L190.7,79.1 L192.0,80.2 L190.5,81.0 L189.0,82.3 L187.9,82.4 L187.9,83.7 L188.3,84.9 L186.4,85.8 L186.2,87.5 L187.4,87.8 L188.8,88.8 L189.8,89.5 L188.5,89.8 L187.1,90.2 L187.2,91.6 L188.3,92.3 L189.6,92.2 L191.3,93.4 L192.4,93.2 L192.8,91.4 L193.5,90.8 L192.7,90.4 L191.6,89.4 L190.9,88.2 L190.9,87.1 L192.0,87.3 L193.0,88.0 L194.3,88.3 L195.4,88.8 L196.5,88.8 L196.9,86.8 L198.3,85.2 L198.4,84.1 L199.0,83.1 L200.5,82.0 L201.5,82.9 L202.3,83.3 L202.0,81.2 L203.1,80.7 L204.3,80.3 L205.7,80.9 L207.3,80.8 L208.8,81.0 L210.6,80.4 L211.6,80.4 L212.8,81.0 L213.9,81.4 L214.9,81.8 L215.9,82.5 L217.0,82.6 L218.1,83.9 L219.1,85.4 L220.5,86.5 L221.4,87.9 L222.2,88.8 L223.1,89.8 L224.1,91.0 L226.0,90.6 L225.1,91.3 L224.2,92.4 L224.4,94.6 L225.8,96.0 L227.7,96.9 L228.7,97.4 L229.9,97.6 M233.3,121.4 L232.2,122.3 L231.0,122.9 L229.8,122.8 L228.4,123.4 L229.2,124.5 L229.2,125.6 L229.0,126.9 L229.5,128.3 L229.9,130.0 L230.2,131.8 L232.3,132.5 L233.5,133.8 M229.3,157.5 L227.9,157.6 L226.5,156.9 L224.5,156.6 L226.2,157.7 L225.8,159.1 L225.6,160.7 L223.6,161.4 L222.0,162.2 L222.0,161.0 L221.7,159.7 L220.6,161.2 L219.4,162.1 L218.1,162.6 L217.0,163.3 L215.1,163.9 L214.8,165.6 L214.1,167.1 L213.0,168.0 L212.6,169.3 L212.0,170.5 L211.8,171.5 L211.2,173.3 L210.4,174.0 L209.5,174.9 L208.2,175.8 L207.4,176.8 L206.2,176.5 L205.0,176.2 L204.9,178.0 L203.7,179.8 L202.3,180.7 L200.5,181.4 L199.2,181.6 L197.7,182.1 L195.8,181.6 L194.4,182.3 L193.2,182.3 L193.0,184.1 L194.1,184.2 L195.2,185.1 L196.5,184.8 L197.8,185.3 L199.6,185.3 L201.6,185.7 L201.9,184.5 L202.7,185.4 L203.8,186.0 L205.0,185.0 L205.7,184.3 L206.4,183.2 L206.8,182.0 L206.4,180.1 L205.9,178.4 L207.0,178.6 L208.1,179.1 L209.4,178.8 L210.7,178.5 L212.2,177.1 L213.4,176.9 L214.8,176.4 L216.1,177.7 L216.5,179.1 L216.5,181.2 L217.7,182.6 M192.6,210.0 L191.3,208.6 L190.1,207.4 L189.3,206.5 L187.4,205.8 L185.4,205.0 L183.8,203.9 L182.5,203.5 L181.4,202.7 L179.9,202.0 L178.3,200.9 L176.8,200.2 L175.4,199.0 L176.8,200.2 L178.2,200.5 L179.5,200.5 L179.2,199.2 L178.7,197.5 L179.4,199.1 L181.3,199.9 L183.0,200.4 L184.2,201.1 L185.5,201.4 L186.9,202.5 L188.4,202.7 L190.2,203.4 L191.6,203.8 L192.8,205.0 L193.8,205.7 L195.2,206.0 L197.2,206.3 M209.8,78.0 L209.2,76.4 L210.6,75.6 L212.0,75.6 L213.6,75.0 L215.1,75.2 L214.5,76.2 L214.1,77.2 L212.3,77.8 L211.1,77.9 L209.8,78.0Z M173.7,165.4 L173.7,166.8 L174.4,168.1 L174.8,169.2 L175.7,170.0 L177.0,170.5 L178.1,170.7 L179.6,171.2 L181.1,171.0 L181.7,171.8 L182.5,173.0 L183.4,174.1 L184.3,174.6 L185.4,173.8 L186.8,173.3 L188.1,171.9 L188.7,170.6 L187.6,169.1 L186.4,168.8 L185.3,168.2 L183.7,167.7 L182.3,167.0 L180.5,166.0 L179.2,166.2 L178.0,166.2 L176.8,165.2 L177.8,163.3 L176.3,162.2 L174.5,163.3 L173.7,165.4Z M188.8,74.7 L186.7,74.5 L185.6,74.0 L184.5,73.8 L183.8,73.2 L182.5,72.1 L181.2,71.9 L179.9,72.3 L178.7,72.7 L177.6,71.5 L175.5,72.0 L174.6,72.8 L173.5,73.4 L172.7,74.4 L171.0,74.2 L171.6,72.9 L172.1,71.3 L173.8,70.2 L175.6,68.9 L176.9,67.9 L178.2,67.3 L178.9,67.4 L179.7,68.1 L180.6,68.2 L182.2,69.5 L182.7,69.3 L184.6,69.3 L184.1,71.4 L185.1,71.9 L186.4,73.0 L187.8,73.5 L188.8,74.7Z M189.0,74.7 L189.0,73.1 L190.0,72.7 L191.4,71.5 L192.7,71.7 L191.9,73.4 L191.3,74.8 L189.8,75.1 L189.0,74.7Z M187.3,73.0 L186.4,72.2 L185.3,71.8 L185.4,70.7 L187.0,71.4 L188.4,71.5 L187.3,73.0Z M171.5,75.0 L170.1,75.7 L170.1,77.0 L168.9,77.3 L167.8,77.8 L166.7,78.6 L166.5,76.8 L165.8,75.9 L164.9,74.7 L165.4,73.5 L166.6,73.8 L167.6,74.3 L168.6,73.5 L169.7,75.4 L171.5,75.0Z M165.9,79.2 L164.1,79.1 L163.9,80.5 L163.2,81.2 L162.3,82.0 L161.2,81.3 L160.7,82.7 L160.5,84.4 L159.1,86.1 L158.8,87.4 L158.0,88.5 L159.0,87.8 L160.6,86.3 L161.1,84.9 L162.2,83.8 L163.3,82.5 L164.1,81.6 L165.0,80.2 L165.9,79.2Z M123.6,180.1 L125.3,180.0 L126.2,179.5 L127.6,179.5 L129.3,179.4 L130.3,178.8 L129.6,178.4 L130.5,176.6 L129.3,176.2 L129.1,175.3 L128.8,174.5 L128.0,173.7 L127.7,172.6 L127.3,171.9 L126.5,171.8 L127.1,171.2 L127.5,169.8 L126.4,169.4 L126.0,169.5 L126.7,168.3 L125.4,168.1 L124.6,169.6 L124.7,171.0 L124.6,172.5 L125.1,172.5 L124.9,173.4 L126.1,173.4 L126.3,174.7 L126.4,175.6 L125.1,175.6 L125.2,176.8 L124.3,177.7 L125.8,178.3 L126.3,178.6 L125.1,178.9 L123.6,180.1Z M123.4,177.0 L123.7,175.5 L124.2,173.8 L123.7,172.7 L122.4,172.6 L122.0,173.7 L120.7,173.7 L120.6,175.0 L120.7,176.1 L119.9,176.8 L120.3,177.6 L121.8,177.6 L123.4,177.0Z M144.7,197.2 L145.8,196.6 L147.1,196.0 L148.4,196.0 L148.3,197.2 L148.4,198.5 L147.3,198.4 L146.2,198.2 L144.8,197.7 L144.7,197.2Z M138.7,193.5 L140.4,193.2 L140.5,194.7 L140.8,196.0 L139.3,196.6 L139.3,194.9 L138.7,193.5Z M138.8,191.1 L139.5,190.2 L140.0,192.0 L139.2,192.6 L138.8,191.1Z M159.6,196.6 L161.4,196.0 L163.1,195.5 L161.7,196.6 L159.8,197.1 L159.6,196.6Z M170.3,191.9 L171.3,190.4 L172.3,189.2 L172.1,190.7 L171.5,191.9 L170.3,191.9Z M147.9,141.6 L147.3,140.3 L146.1,138.5 L145.2,137.0 L144.6,135.2 L144.5,133.4 L145.4,132.8 L145.9,134.0 L145.6,135.2 L146.2,136.4 L147.3,137.9 L148.0,139.3 L150.0,139.9 L149.7,141.0 L148.9,141.5 L147.9,141.6Z M147.9,141.6 L147.3,140.3 L146.6,139.3 L146.1,138.5 L145.7,137.7 L145.2,137.0 L145.4,135.8 L144.6,135.2 L144.8,134.2 L144.5,133.4 L145.4,132.8 L145.9,134.0 L145.9,135.2 L146.2,136.4 L146.3,137.7 L147.3,137.9 L148.0,139.3 L148.9,139.8 L150.0,139.9 L149.7,141.0 L148.9,141.5 L147.9,141.6Z M131.6,139.9 L132.8,141.6 L133.4,142.8 L134.1,143.1 L134.0,140.9 L134.6,140.7 L133.3,139.4 L133.4,138.7 L132.6,139.0 L131.6,139.9Z M131.6,139.9 L132.7,140.4 L132.8,141.6 L133.4,142.8 L134.1,143.1 L134.7,142.0 L134.0,140.9 L134.6,140.7 L133.7,140.2 L133.3,139.4 L133.4,138.7 L132.6,139.0 L131.6,139.9Z M133.1,138.8 L133.7,138.1 L134.8,137.8 L134.7,139.2 L133.5,139.2 L133.1,138.8Z M143.5,125.0 L142.4,124.1 L142.5,123.1 L143.7,122.6 L144.4,123.8 L143.5,125.0Z M142.0,126.0 L140.6,125.1 L141.9,125.1 L142.0,126.0Z M141.9,112.7 L140.2,112.1 L139.8,111.0 L138.6,109.8 L140.1,110.1 L141.7,111.3 L141.9,112.7Z M142.8,110.0 L142.1,109.1 L141.9,109.9 L142.8,110.0Z M129.4,101.9 L128.2,102.3 L127.9,101.7 L129.0,101.4 L129.4,101.9Z M131.9,196.5 L133.1,196.0 L132.8,196.8 L131.9,196.5Z M103.4,211.4 L104.3,211.4 L103.7,212.1 L103.4,211.4Z M228.4,92.8 L227.3,91.9 L226.5,91.0 L226.8,89.0 M88.5,32.6 L87.2,32.7 L87.8,32.3 L88.5,32.6Z M91.5,32.8 L90.5,32.6 L91.1,32.3 L91.5,32.8Z M94.4,32.9 L93.6,32.8 L94.0,32.4 L94.4,32.9Z M97.4,191.9 L98.0,192.3 L97.6,192.3 L97.4,191.9Z M94.8,189.3 L95.5,189.8 L95.0,189.7 L94.8,189.3Z M96.3,189.7 L96.6,190.0 L96.3,190.1 L96.3,189.7Z M100.8,133.9 L101.6,133.7 L101.2,133.0 L100.9,132.4 L100.2,132.7 L99.9,133.3 L100.1,134.0 L100.8,133.9Z M100.8,133.9 L101.6,133.7 L101.2,133.0 L100.9,132.4 L100.2,132.7 L99.9,133.3 L100.1,134.0 L100.8,133.9Z M107.7,131.7 L108.1,131.2 L108.2,130.5 L107.6,130.3 L107.0,130.0 L107.0,130.8 L107.1,131.6 L107.7,131.7Z M107.7,131.7 L108.1,131.2 L108.2,130.5 L107.6,130.3 L107.0,130.0 L107.0,130.8 L107.1,131.6 L107.7,131.7Z M109.6,125.2 L110.1,125.2 L110.0,124.8 L110.0,124.3 L109.5,124.4 L109.1,124.6 L109.2,125.1 L109.6,125.2Z M109.6,125.2 L110.1,125.2 L110.0,124.8 L110.0,124.3 L109.5,124.4 L109.1,124.6 L109.2,125.1 L109.6,125.2Z M110.8,124.1 L111.5,123.8 L111.7,123.3 L111.5,122.7 L110.7,122.8 L109.8,122.9 L110.3,123.6 L110.8,124.1Z M110.8,124.1 L111.5,123.8 L111.7,123.3 L111.5,122.7 L110.7,122.8 L109.8,122.9 L110.3,123.6 L110.8,124.1Z M113.2,118.9 L113.9,118.8 L114.3,118.2 L114.5,117.3 L113.7,117.3 L112.9,117.3 L113.0,118.2 L113.2,118.9Z M113.2,118.9 L113.9,118.8 L114.3,118.2 L114.5,117.3 L113.7,117.3 L112.9,117.3 L113.0,118.2 L113.2,118.9Z M113.9,121.1 L114.3,120.9 L114.6,120.6 L114.6,120.1 L114.2,120.0 L113.7,120.2 L113.8,120.7 L113.9,121.1Z M113.9,121.1 L114.3,120.9 L114.6,120.6 L114.6,120.1 L114.2,120.0 L113.7,120.2 L113.8,120.7 L113.9,121.1Z M114.8,121.7 L115.2,121.4 L115.5,121.2 L115.3,120.8 L115.1,120.6 L114.7,120.9 L114.7,121.3 L114.8,121.7Z M114.8,121.7 L115.2,121.4 L115.5,121.2 L115.3,120.8 L115.1,120.6 L114.7,120.9 L114.7,121.3 L114.8,121.7Z M114.4,124.0 L115.0,124.1 L115.0,123.4 L115.0,122.8 L114.4,122.6 L114.0,123.2 L113.8,123.9 L114.4,124.0Z M114.4,124.0 L115.0,124.1 L115.0,123.4 L115.0,122.8 L114.4,122.6 L114.0,123.2 L113.8,123.9 L114.4,124.0Z M113.8,125.1 L114.2,125.1 L114.3,124.7 L114.1,124.5 L113.7,124.3 L113.6,124.7 L113.4,125.0 L113.8,125.1Z M113.8,125.1 L114.2,125.1 L114.3,124.7 L114.1,124.5 L113.7,124.3 L113.6,124.7 L113.4,125.0 L113.8,125.1Z M101.6,123.8 L102.2,123.4 L102.7,122.8 L102.0,122.4 L101.4,121.9 L101.1,122.7 L101.0,123.4 L101.6,123.8Z M101.6,123.8 L102.2,123.4 L102.7,122.8 L102.0,122.4 L101.4,121.9 L101.1,122.7 L101.0,123.4 L101.6,123.8Z M93.3,132.0 L93.9,131.9 L93.6,131.0 L93.4,130.2 L92.9,130.5 L92.7,131.1 L92.9,131.9 L93.3,132.0Z M92.6,133.5 L93.0,133.1 L93.3,132.7 L92.7,132.5 L92.2,132.6 L91.8,132.9 L92.2,133.2 L92.6,133.5Z M80.0,134.9 L80.2,134.5 L80.2,133.8 L79.9,133.2 L79.7,133.5 L79.4,133.9 L79.7,134.4 L80.0,134.9Z M84.7,135.3 L85.1,134.9 L85.4,134.4 L84.8,134.3 L84.2,134.3 L83.9,134.7 L84.2,135.1 L84.7,135.3Z M80.9,152.7 L81.0,152.2 L80.3,151.0 L79.6,149.7 L79.6,150.5 L79.6,151.2 L80.4,152.3 L80.9,152.7Z M76.3,154.2 L76.5,153.9 L76.0,153.1 L75.5,152.2 L75.5,152.7 L75.5,153.2 L76.0,154.0 L76.3,154.2Z M94.6,134.3 L94.9,134.2 L94.9,133.8 L94.6,133.6 L94.3,133.5 L94.3,133.9 L94.3,134.3 L94.6,134.3Z M108.1,142.8 L108.2,142.3 L108.1,141.7 L107.6,141.8 L107.1,141.8 L107.3,142.4 L107.6,142.9 L108.1,142.8Z M108.1,142.8 L108.2,142.3 L108.1,141.7 L107.6,141.8 L107.1,141.8 L107.3,142.4 L107.6,142.9 L108.1,142.8Z M108.0,121.3 L108.4,121.0 L108.7,120.8 L108.5,120.4 L108.0,120.3 L107.6,120.4 L107.8,120.8 L108.0,121.3Z M108.0,121.3 L108.4,121.0 L108.7,120.8 L108.5,120.4 L108.0,120.3 L107.6,120.4 L107.8,120.8 L108.0,121.3Z M102.2,132.0 L102.4,131.8 L102.6,131.6 L102.2,131.5 L101.8,131.5 L101.8,131.7 L101.8,132.0 L102.2,132.0Z M101.2,134.7 L101.4,134.4 L101.4,134.1 L101.1,133.9 L100.8,134.0 L100.6,134.3 L100.9,134.5 L101.2,134.7Z M94.9,142.7 L95.2,142.6 L95.1,142.2 L94.8,142.1 L94.5,142.1 L94.6,142.5 L94.6,142.9 L94.9,142.7Z M112.5,118.1 L112.8,118.0 L113.1,117.8 L113.1,117.4 L112.8,117.4 L112.4,117.4 L112.5,117.7 L112.5,118.1Z M110.2,122.0 L110.4,121.9 L110.6,121.8 L110.4,121.6 L110.2,121.5 L110.1,121.7 L110.1,121.9 L110.2,122.0Z M112.9,125.4 L113.1,125.4 L113.1,125.1 L113.1,124.8 L112.9,124.9 L112.7,125.0 L112.7,125.4 L112.9,125.4Z M112.6,126.7 L112.8,126.6 L112.9,126.3 L112.7,126.1 L112.5,126.0 L112.4,126.3 L112.4,126.6 L112.6,126.7Z M95.1,138.9 L95.4,138.8 L95.2,138.4 L95.0,138.0 L94.7,138.1 L94.7,138.5 L94.9,139.0 L95.1,138.9Z M102.9,131.5 L103.0,131.2 L103.1,131.0 L102.9,130.9 L102.7,130.9 L102.5,131.1 L102.7,131.3 L102.9,131.5Z M100.2,128.5 L100.4,128.3 L100.5,128.1 L100.3,127.9 L100.0,127.9 L99.8,128.1 L100.0,128.3 L100.2,128.5Z M113.1,122.5 L113.3,122.4 L113.6,122.2 L113.4,122.0 L113.1,121.9 L112.8,122.0 L113.0,122.3 L113.1,122.5Z M110.7,152.2 L110.5,151.9 L110.3,151.6 L110.0,151.5 L109.9,151.8 L109.9,152.1 L110.3,152.1 L110.7,152.2Z M118.0,149.4 L118.2,149.1 L117.7,148.9 L117.3,148.8 L117.2,149.2 L117.4,149.5 L117.9,149.7 L118.0,149.4Z M120.5,147.6 L120.3,147.3 L120.1,147.0 L119.8,147.1 L119.6,147.4 L119.8,147.7 L120.1,147.6 L120.5,147.6Z M123.2,144.9 L123.2,144.6 L123.0,144.5 L122.7,144.6 L122.7,144.9 L122.7,145.2 L123.0,145.0 L123.2,144.9Z M121.8,145.7 L121.9,145.5 L121.7,145.4 L121.5,145.5 L121.4,145.6 L121.6,145.7 L121.7,145.9 L121.8,145.7Z M136.1,137.2 L136.0,137.2 L135.8,137.3 L135.7,137.4 L135.8,137.5 L135.9,137.5 L136.0,137.4 L136.1,137.2Z M135.4,141.0 L135.2,140.7 L134.8,140.7 L134.7,141.1 L134.7,141.6 L135.1,141.5 L135.5,141.4 L135.4,141.0Z M134.7,140.3 L134.5,140.2 L134.3,140.1 L134.3,140.4 L134.3,140.6 L134.5,140.6 L134.7,140.5 L134.7,140.3Z M138.7,133.9 L138.4,133.8 L138.1,134.2 L137.7,134.7 L138.2,134.8 L138.6,134.8 L138.8,134.2 L138.7,133.9Z M139.4,132.4 L139.0,132.5 L138.7,132.9 L138.5,133.4 L138.9,133.4 L139.3,133.4 L139.4,132.9 L139.4,132.4Z M140.2,132.3 L139.9,132.2 L139.7,132.5 L139.7,132.9 L139.9,133.1 L140.2,132.8 L140.5,132.5 L140.2,132.3Z M149.9,144.2 L149.5,143.8 L149.3,144.3 L149.1,144.7 L149.5,145.0 L150.0,144.9 L150.3,144.5 L149.9,144.2Z M151.8,139.4 L151.4,139.4 L151.0,139.6 L151.3,140.0 L151.5,140.4 L151.9,140.1 L152.1,139.8 L151.8,139.4Z M149.7,133.2 L149.5,133.4 L149.2,133.6 L149.4,133.9 L149.6,134.0 L149.9,133.9 L149.8,133.6 L149.7,133.2Z M143.3,122.5 L143.1,123.1 L142.9,123.6 L143.4,123.8 L143.8,123.8 L144.0,123.3 L143.7,122.9 L143.3,122.5Z M141.1,124.8 L140.8,125.2 L140.7,125.6 L141.0,126.0 L141.3,125.8 L141.7,125.5 L141.4,125.2 L141.1,124.8Z M140.9,111.6 L140.9,112.3 L141.2,112.7 L141.8,112.8 L142.0,112.3 L142.2,111.7 L141.5,111.6 L140.9,111.6Z M139.8,111.0 L139.6,111.4 L140.0,111.5 L140.3,111.7 L140.4,111.3 L140.5,110.9 L140.1,110.8 L139.8,111.0Z M141.8,109.3 L141.7,109.6 L142.1,110.0 L142.4,110.0 L142.8,109.9 L142.4,109.5 L142.0,109.1 L141.8,109.3Z M134.0,100.7 L133.9,100.9 L134.3,100.9 L134.6,100.9 L134.6,100.7 L134.4,100.5 L134.0,100.4 L134.0,100.7Z M122.4,92.0 L122.5,92.3 L123.3,92.1 L124.0,91.9 L123.7,91.7 L123.2,91.5 L122.5,91.7 L122.4,92.0Z M119.2,88.1 L119.4,88.3 L119.8,88.3 L120.0,88.0 L120.1,87.7 L119.6,87.7 L119.2,87.8 L119.2,88.1Z M115.6,81.2 L115.7,81.4 L116.4,81.1 L117.0,80.9 L116.8,80.8 L116.3,80.8 L115.7,81.0 L115.6,81.2Z M117.3,79.1 L117.6,79.2 L118.0,79.2 L118.2,78.9 L118.4,78.7 L117.9,78.8 L117.5,78.9 L117.3,79.1Z M118.6,78.2 L119.0,78.2 L119.3,78.2 L119.6,78.1 L119.5,78.0 L119.2,77.9 L118.9,78.0 L118.6,78.2Z M140.2,86.7 L140.2,87.2 L140.4,87.3 L140.7,87.2 L140.8,86.7 L140.8,86.2 L140.5,86.4 L140.2,86.7Z M139.7,80.9 L139.8,81.1 L140.1,81.3 L140.3,81.1 L140.6,81.0 L140.2,80.8 L139.9,80.8 L139.7,80.9Z M150.7,77.6 L150.5,78.2 L150.8,78.2 L151.1,78.1 L151.2,77.6 L151.2,77.3 L151.0,77.1 L150.7,77.6Z M161.1,74.0 L161.2,74.4 L161.7,74.9 L162.2,74.9 L162.7,74.8 L162.1,74.3 L161.4,73.8 L161.1,74.0Z M163.7,74.1 L163.9,74.4 L164.1,74.7 L164.4,74.7 L164.5,74.5 L164.5,74.1 L164.1,74.1 L163.7,74.1Z M158.6,74.3 L158.5,74.5 L159.0,74.7 L159.4,74.9 L159.4,74.7 L159.2,74.4 L158.8,74.2 L158.6,74.3Z M189.5,76.8 L189.2,77.0 L189.2,77.3 L189.6,77.1 L190.0,76.9 L189.9,76.7 L189.9,76.5 L189.5,76.8Z M192.9,78.4 L193.0,78.8 L193.2,79.1 L193.5,79.4 L193.6,79.2 L193.6,78.9 L193.2,78.6 L192.9,78.4Z M176.9,72.2 L176.7,72.5 L176.9,72.6 L177.2,72.7 L177.3,72.3 L177.5,72.0 L177.2,72.0 L176.9,72.2Z M201.3,69.7 L201.1,70.1 L201.0,70.6 L201.5,70.4 L202.0,70.1 L202.1,69.7 L201.8,69.6 L201.3,69.7Z M197.3,69.9 L197.2,70.1 L197.4,70.4 L197.7,70.5 L197.9,70.4 L197.7,70.1 L197.6,69.8 L197.3,69.9Z M143.0,167.5 L142.8,166.9 L142.5,167.1 L142.3,167.3 L142.6,167.8 L142.9,168.2 L143.1,168.0 L143.0,167.5Z M141.9,169.0 L141.7,168.4 L141.5,168.4 L141.6,168.8 L141.7,169.4 L141.9,169.6 L142.1,169.7 L141.9,169.0Z M145.5,165.2 L145.3,165.0 L144.9,165.1 L144.7,165.4 L144.6,165.7 L145.1,165.6 L145.5,165.4 L145.5,165.2Z M145.2,164.5 L145.1,164.4 L144.8,164.5 L144.7,164.7 L144.7,164.8 L145.0,164.8 L145.2,164.7 L145.2,164.5Z M138.8,171.6 L138.7,171.0 L138.3,171.3 L137.9,171.5 L138.1,171.9 L138.4,172.2 L138.9,172.0 L138.8,171.6Z M137.6,172.1 L137.5,171.8 L137.3,171.8 L137.1,172.0 L137.1,172.4 L137.4,172.4 L137.7,172.4 L137.6,172.1Z M138.6,172.6 L138.5,172.5 L138.2,172.6 L138.0,172.7 L138.0,172.8 L138.3,172.8 L138.6,172.8 L138.6,172.6Z M141.2,171.6 L141.1,171.5 L140.9,171.5 L140.9,171.6 L140.9,171.7 L141.0,171.8 L141.1,171.7 L141.2,171.6Z M142.8,163.5 L142.6,163.5 L142.4,163.5 L142.2,163.7 L142.3,163.8 L142.5,163.8 L142.7,163.7 L142.8,163.5Z M136.4,154.0 L136.1,153.9 L135.7,153.9 L135.5,154.1 L135.5,154.3 L135.8,154.4 L136.1,154.2 L136.4,154.0Z M136.6,153.3 L136.4,153.1 L136.1,153.0 L136.1,153.3 L136.1,153.5 L136.3,153.6 L136.5,153.5 L136.6,153.3Z M137.2,152.3 L137.2,152.2 L137.0,152.3 L136.8,152.4 L136.9,152.6 L137.1,152.6 L137.3,152.5 L137.2,152.3Z M124.2,168.8 L124.2,168.3 L124.0,168.4 L123.7,168.5 L123.8,169.0 L123.8,169.4 L124.0,169.2 L124.2,168.8Z M124.5,169.8 L124.5,169.7 L124.3,169.6 L124.1,169.7 L124.1,169.9 L124.2,170.1 L124.4,170.0 L124.5,169.8Z M127.1,167.6 L127.0,167.5 L126.8,167.4 L126.7,167.6 L126.6,167.7 L126.8,167.8 L127.0,167.8 L127.1,167.6Z M128.2,165.9 L128.2,165.4 L128.1,165.5 L128.0,165.6 L128.0,166.1 L128.1,166.3 L128.2,166.3 L128.2,165.9Z M124.7,163.3 L124.7,163.0 L124.5,163.1 L124.2,163.1 L124.3,163.3 L124.4,163.5 L124.6,163.5 L124.7,163.3Z M125.4,174.3 L125.3,174.2 L125.2,174.1 L125.1,174.2 L125.1,174.4 L125.2,174.6 L125.3,174.5 L125.4,174.3Z M124.5,171.0 L124.5,170.9 L124.3,170.9 L124.1,170.9 L124.2,171.1 L124.2,171.2 L124.4,171.1 L124.5,171.0Z M125.4,175.6 L125.3,175.6 L125.2,175.5 L125.1,175.6 L125.1,175.7 L125.2,175.7 L125.3,175.7 L125.4,175.6Z M127.9,179.6 L127.9,179.5 L127.8,179.5 L127.6,179.5 L127.6,179.6 L127.8,179.6 L127.9,179.6 L127.9,179.6Z M164.6,192.9 L164.4,192.8 L164.1,192.7 L164.2,193.0 L164.2,193.3 L164.5,193.3 L164.7,193.2 L164.6,192.9Z M160.7,189.5 L160.4,189.5 L160.1,189.6 L159.9,189.8 L160.0,189.9 L160.2,189.9 L160.4,189.7 L160.7,189.5Z M160.6,191.0 L160.5,190.9 L160.3,190.8 L160.3,191.0 L160.4,191.1 L160.6,191.3 L160.6,191.1 L160.6,191.0Z M158.3,191.7 L158.2,191.5 L157.7,191.8 L157.2,192.0 L157.4,192.2 L157.8,192.1 L158.4,191.9 L158.3,191.7Z M154.6,193.9 L154.4,193.8 L154.2,193.8 L154.2,194.0 L154.3,194.2 L154.4,194.3 L154.5,194.1 L154.6,193.9Z M152.8,192.2 L152.7,192.0 L152.5,192.0 L152.5,192.2 L152.6,192.4 L152.8,192.6 L152.8,192.4 L152.8,192.2Z M133.2,196.3 L132.9,196.1 L132.5,195.9 L132.3,196.2 L132.1,196.5 L132.6,196.6 L133.0,196.5 L133.2,196.3Z M134.1,195.6 L134.1,195.6 L133.9,195.6 L133.8,195.6 L133.7,195.7 L133.9,195.7 L134.2,195.7 L134.1,195.6Z M131.0,197.4 L130.8,197.3 L130.7,197.2 L130.6,197.3 L130.6,197.5 L130.7,197.6 L130.8,197.5 L131.0,197.4Z M104.2,211.7 L103.9,211.4 L103.6,211.2 L103.4,211.3 L103.2,211.5 L103.5,211.7 L103.9,211.8 L104.2,211.7Z M105.3,212.5 L105.2,212.3 L105.0,212.1 L104.8,212.3 L104.6,212.5 L104.9,212.7 L105.1,212.8 L105.3,212.5Z M107.7,212.5 L107.9,212.0 L107.6,212.0 L107.4,212.1 L107.3,212.6 L107.4,212.8 L107.6,212.9 L107.7,212.5Z M108.6,211.5 L108.7,211.2 L108.5,211.3 L108.2,211.3 L108.2,211.5 L108.3,211.7 L108.6,211.7 L108.6,211.5Z M102.2,210.3 L102.2,210.1 L102.1,210.0 L101.9,210.1 L101.9,210.3 L101.9,210.6 L102.0,210.5 L102.2,210.3Z M105.7,204.1 L105.5,204.0 L105.2,203.9 L105.0,203.9 L105.0,204.0 L105.2,204.1 L105.4,204.1 L105.7,204.1Z M64.3,147.4 L64.2,146.8 L64.0,146.1 L63.8,145.7 L63.6,145.5 L63.8,146.2 L64.0,146.9 L64.3,147.4Z M65.8,149.5 L65.9,149.5 L65.8,149.3 L65.8,149.2 L65.7,149.3 L65.7,149.4 L65.8,149.5 L65.8,149.5Z M39.3,145.8 L39.4,145.5 L39.3,144.9 L39.1,144.5 L38.9,144.2 L39.0,145.0 L39.2,145.7 L39.3,145.8Z M35.6,146.6 L36.3,146.4 L36.5,146.1 L35.8,146.1 L35.0,146.1 L34.9,146.4 L34.8,146.8 L35.6,146.6Z M39.4,147.0 L40.1,146.9 L40.0,146.7 L39.6,146.6 L39.0,146.8 L38.8,147.0 L38.7,147.2 L39.4,147.0Z M37.3,149.1 L38.0,149.0 L37.8,148.9 L37.6,148.8 L37.0,149.0 L36.6,149.2 L36.7,149.3 L37.3,149.1Z M31.6,156.4 L31.6,156.0 L31.6,155.6 L31.4,155.4 L31.2,155.3 L31.2,155.7 L31.3,156.1 L31.6,156.4Z M29.1,139.5 L29.4,139.5 L29.3,139.0 L29.1,138.6 L28.9,138.7 L28.7,139.1 L28.8,139.5 L29.1,139.5Z M26.0,132.2 L26.3,132.1 L26.4,132.0 L26.2,132.0 L25.9,132.0 L25.6,132.1 L25.8,132.1 L26.0,132.2Z M48.0,93.4 L48.3,93.4 L48.4,93.2 L48.4,93.0 L48.1,93.0 L47.7,92.9 L47.9,93.2 L48.0,93.4Z M48.5,88.7 L48.7,88.8 L48.8,88.7 L48.7,88.6 L48.5,88.5 L48.4,88.5 L48.3,88.6 L48.5,88.7Z M60.3,87.5 L60.4,87.5 L60.5,87.2 L60.7,86.9 L60.6,87.0 L60.4,87.1 L60.3,87.4 L60.3,87.5Z M58.6,88.6 L58.7,88.6 L58.8,88.5 L58.8,88.4 L58.7,88.3 L58.5,88.4 L58.6,88.5 L58.6,88.6Z M92.7,93.8 L93.2,94.2 L93.4,93.8 L93.7,93.4 L93.1,93.1 L92.5,92.9 L92.3,93.4 L92.7,93.8Z M91.3,93.4 L91.7,93.6 L91.9,93.4 L92.0,93.0 L91.6,92.9 L91.2,92.7 L91.2,93.1 L91.3,93.4Z M95.0,95.6 L95.5,96.0 L95.7,95.5 L95.9,95.1 L95.4,94.7 L94.8,94.7 L94.6,95.1 L95.0,95.6Z M97.7,95.6 L98.1,95.9 L98.5,95.9 L98.2,95.4 L97.9,94.9 L97.5,95.0 L97.3,95.1 L97.7,95.6Z M98.7,96.1 L99.1,96.1 L99.5,96.0 L99.4,95.6 L99.3,95.3 L99.0,95.5 L98.7,95.8 L98.7,96.1Z M98.1,96.6 L98.5,96.9 L98.7,96.8 L98.5,96.5 L98.2,96.1 L97.9,96.1 L97.7,96.2 L98.1,96.6Z M96.7,96.2 L96.9,96.4 L97.1,96.1 L97.2,95.8 L97.0,95.7 L96.8,95.8 L96.5,96.1 L96.7,96.2Z M94.2,96.4 L94.6,96.5 L94.8,96.4 L94.8,96.1 L94.5,95.9 L94.1,95.8 L94.2,96.1 L94.2,96.4Z M109.3,89.2 L109.4,89.3 L109.6,89.2 L109.8,89.0 L109.7,88.9 L109.5,89.0 L109.3,89.1 L109.3,89.2Z M107.5,93.2 L107.6,93.3 L107.9,93.2 L107.9,93.0 L107.9,92.8 L107.6,92.9 L107.4,93.0 L107.5,93.2Z M227.8,89.3 L227.4,90.4 L227.2,91.8 L228.4,92.1 L229.6,92.4 L229.4,90.9 L228.9,89.6 L227.8,89.3Z M201.2,80.6 L201.2,80.8 L201.3,81.1 L201.5,81.1 L201.7,81.1 L201.6,80.9 L201.4,80.7 L201.2,80.6Z M199.3,82.4 L199.5,82.8 L199.6,83.2 L199.9,83.4 L200.1,83.5 L199.9,83.0 L199.6,82.7 L199.3,82.4Z M205.1,177.1 L204.9,177.1 L204.6,177.6 L204.3,178.1 L204.5,178.0 L204.8,177.8 L205.1,177.3 L205.1,177.1Z M200.8,185.4 L200.5,185.3 L200.5,185.3 L200.5,185.5 L200.7,185.6 L200.9,185.7 L200.8,185.5 L200.8,185.4Z M217.4,179.8 L217.0,179.7 L216.7,179.6 L217.1,180.0 L217.5,180.2 L217.8,180.3 L217.7,180.1 L217.4,179.8Z M108.9,110.5 L107.6,110.7 L107.4,111.7 L106.6,111.4 L106.6,112.5 L105.5,113.2 L104.5,114.0 L103.4,114.6 L102.4,114.6 L101.9,115.8 L101.5,116.8 L100.5,117.2 L101.9,117.7 L102.1,118.5 L101.2,119.3 L100.5,120.4 L100.4,121.5 L100.2,122.3 L101.0,122.8 L100.6,123.5 L99.3,123.5 L100.5,124.0 L101.3,124.7 L102.5,124.4 L103.4,123.7 L104.7,123.8 L105.4,124.6 L104.6,125.2 L103.2,125.4 L102.3,125.8 L101.1,126.3 L101.7,126.7 L101.0,127.5 L99.6,127.5 L99.2,128.1 L100.5,128.2 L101.8,128.6 L102.7,129.0 L102.6,130.0 L101.9,130.5 L100.7,130.7 L99.3,130.5 L98.0,130.0 L98.1,128.9 " fill="none" stroke="#000" stroke-width="1.3" stroke-linejoin="round" stroke-linecap="round"/>
</g>
<ellipse cx="128.7" cy="125.85" rx="104.2" ry="103.5" fill="none" stroke="#2a2a2a" stroke-width="1.2"/>
<text x="123.2" y="16.8" textLength="11.0" lengthAdjust="spacingAndGlyphs" class="lb">180</text>
<text x="127.0" y="240.8" textLength="3.8" lengthAdjust="spacingAndGlyphs" class="lb">0</text>
<text x="5.4" y="126.6" textLength="12.5" lengthAdjust="spacingAndGlyphs" class="lb">90W</text>
<text x="233.8" y="126.6" textLength="10.5" lengthAdjust="spacingAndGlyphs" class="lb">90E</text>
<g clip-path="url(#cb)">
<ellipse cx="379.6" cy="125.9" rx="104.5" ry="103.7" fill="#74072a"/>
<polygon points="463.3,127.4 463.7,132.6 463.8,137.9 463.5,143.3 462.8,148.6 461.7,153.9 460.0,159.0 457.6,163.9 454.6,168.4 450.9,172.4 446.6,175.8 441.8,178.5 436.6,180.5 431.3,181.8 425.9,182.6 420.6,182.9 415.6,182.9 410.8,182.8 406.4,182.7 402.3,182.7 398.4,182.9 394.6,183.3 391.0,183.9 387.3,184.6 383.5,185.3 379.7,185.9 375.7,186.3 371.7,186.6 367.6,186.8 363.4,186.7 359.1,186.4 354.6,185.9 350.1,185.3 345.4,184.4 340.7,183.2 335.9,181.7 331.1,179.8 326.4,177.4 322.0,174.6 317.9,171.2 314.1,167.4 310.9,163.2 308.2,158.6 306.0,153.7 304.3,148.6 303.2,143.4 302.5,138.0 302.3,132.7 302.5,127.4 303.1,122.1 304.2,116.9 305.7,111.9 307.6,107.0 309.9,102.4 312.6,98.0 315.7,93.9 319.1,90.2 322.8,86.8 326.6,83.7 330.7,81.0 334.7,78.6 338.9,76.5 343.0,74.6 347.1,72.9 351.2,71.4 355.2,70.0 359.2,68.8 363.2,67.6 367.2,66.5 371.2,65.6 375.3,64.7 379.4,63.9 383.5,63.4 387.7,63.0 392.0,62.9 396.3,63.0 400.6,63.5 404.9,64.4 409.1,65.5 413.3,67.0 417.4,68.7 421.4,70.7 425.3,72.9 429.2,75.3 433.0,77.9 436.7,80.7 440.4,83.7 444.0,87.0 447.4,90.5 450.6,94.3 453.5,98.4 456.1,102.7 458.3,107.3 460.1,112.1 461.5,117.1 462.6,122.2" fill="#bb1c2e"/>
<polygon points="438.8,126.1 438.2,130.1 437.2,134.1 435.9,137.9 434.2,141.5 432.3,145.0 430.2,148.3 427.9,151.4 425.5,154.3 423.0,157.1 420.4,159.7 417.8,162.2 415.0,164.5 412.2,166.7 409.3,168.7 406.4,170.6 403.3,172.3 400.1,173.8 396.9,175.1 393.6,176.2 390.3,177.1 386.9,177.8 383.5,178.3 380.1,178.7 376.6,179.0 373.1,179.1 369.6,179.2 366.0,179.3 362.4,179.3 358.6,179.2 354.7,179.0 350.7,178.6 346.7,178.0 342.5,177.1 338.4,175.8 334.4,174.2 330.5,172.2 326.8,169.7 323.5,166.8 320.6,163.5 318.1,159.9 316.0,156.0 314.5,151.8 313.5,147.5 313.0,143.1 312.9,138.8 313.2,134.4 313.9,130.2 314.8,126.1 315.9,122.1 317.3,118.3 318.8,114.6 320.5,111.0 322.2,107.6 324.2,104.4 326.3,101.3 328.5,98.3 330.9,95.5 333.4,92.9 336.0,90.5 338.8,88.3 341.7,86.3 344.7,84.5 347.7,82.9 350.8,81.4 353.9,80.1 357.0,78.8 360.2,77.7 363.4,76.7 366.6,75.7 369.9,74.8 373.2,74.0 376.6,73.4 380.1,72.8 383.7,72.5 387.3,72.4 391.0,72.5 394.7,72.9 398.4,73.5 402.0,74.5 405.7,75.8 409.2,77.3 412.6,79.2 415.9,81.3 419.1,83.6 422.1,86.2 424.9,89.0 427.6,92.0 430.1,95.2 432.3,98.6 434.3,102.2 435.9,106.0 437.3,109.8 438.2,113.8 438.8,117.9 439.0,122.0" fill="#f4a582"/>
<polygon points="424.3,125.5 423.5,128.6 422.5,131.7 421.5,134.6 420.3,137.4 419.0,140.2 417.7,142.9 416.3,145.5 414.7,148.0 413.1,150.5 411.4,152.9 409.5,155.2 407.5,157.3 405.4,159.4 403.2,161.3 400.8,163.1 398.3,164.7 395.8,166.2 393.1,167.6 390.4,168.7 387.6,169.8 384.7,170.7 381.8,171.5 378.8,172.3 375.7,172.9 372.6,173.4 369.3,173.7 366.0,174.0 362.7,174.1 359.2,174.0 355.7,173.7 352.2,173.2 348.6,172.4 345.1,171.3 341.6,169.9 338.3,168.1 335.2,166.0 332.3,163.6 329.6,160.9 327.3,157.8 325.3,154.6 323.7,151.1 322.4,147.5 321.6,143.9 321.1,140.1 320.9,136.4 321.1,132.7 321.5,129.0 322.2,125.5 323.1,122.0 324.1,118.7 325.4,115.5 326.7,112.4 328.2,109.4 329.8,106.5 331.5,103.7 333.3,101.0 335.2,98.4 337.3,96.0 339.5,93.7 341.8,91.6 344.2,89.6 346.8,87.8 349.4,86.2 352.2,84.8 355.0,83.5 357.9,82.5 360.8,81.6 363.7,80.9 366.7,80.4 369.7,79.9 372.7,79.6 375.7,79.4 378.7,79.2 381.8,79.2 384.9,79.3 388.0,79.4 391.2,79.8 394.4,80.3 397.7,80.9 400.9,81.9 404.1,83.0 407.2,84.5 410.2,86.2 413.0,88.2 415.6,90.5 417.9,93.1 420.0,95.9 421.8,98.9 423.2,102.1 424.2,105.4 425.0,108.8 425.4,112.2 425.5,115.6 425.3,119.0 424.9,122.3" fill="#f7f7f7"/>
<polygon points="417.5,125.2 417.1,127.9 416.5,130.5 415.8,133.1 415.0,135.6 414.1,138.1 413.1,140.5 411.9,142.8 410.7,145.1 409.3,147.3 407.8,149.4 406.1,151.5 404.3,153.4 402.4,155.2 400.4,156.8 398.3,158.4 396.1,159.8 393.8,161.1 391.5,162.2 389.1,163.3 386.6,164.3 384.1,165.2 381.5,166.0 378.9,166.8 376.2,167.4 373.4,168.0 370.5,168.4 367.5,168.7 364.5,168.9 361.4,168.8 358.2,168.5 355.1,167.9 352.0,167.1 348.9,166.0 346.0,164.5 343.2,162.7 340.6,160.7 338.3,158.4 336.3,155.8 334.5,153.0 333.1,150.1 331.9,147.0 331.1,143.8 330.6,140.7 330.3,137.5 330.3,134.3 330.5,131.2 330.9,128.2 331.4,125.2 332.1,122.3 332.9,119.5 333.9,116.8 334.9,114.1 336.1,111.6 337.3,109.1 338.7,106.7 340.1,104.4 341.7,102.2 343.5,100.1 345.3,98.1 347.3,96.3 349.4,94.6 351.5,93.1 353.8,91.7 356.1,90.5 358.5,89.4 361.0,88.5 363.4,87.7 365.9,87.0 368.4,86.4 371.0,85.9 373.6,85.5 376.2,85.2 378.8,84.9 381.5,84.8 384.2,84.7 387.0,84.8 389.8,85.1 392.6,85.5 395.4,86.2 398.2,87.0 400.9,88.2 403.5,89.5 406.0,91.2 408.3,93.1 410.4,95.2 412.2,97.5 413.9,100.0 415.2,102.6 416.3,105.4 417.1,108.2 417.7,111.1 418.0,114.0 418.2,116.8 418.1,119.7 417.9,122.4" fill="#92c5de"/>
<polygon points="412.5,124.0 412.2,126.3 411.8,128.7 411.3,131.0 410.7,133.3 410.0,135.5 409.1,137.7 408.2,139.8 407.1,141.9 405.9,143.9 404.5,145.9 403.1,147.7 401.5,149.4 399.8,151.0 397.9,152.5 396.0,153.9 394.1,155.2 392.0,156.4 389.9,157.5 387.8,158.5 385.5,159.4 383.3,160.3 380.9,161.2 378.5,161.9 376.0,162.6 373.5,163.3 370.8,163.7 368.1,164.1 365.2,164.3 362.4,164.2 359.5,164.0 356.6,163.4 353.7,162.6 351.0,161.5 348.4,160.0 345.9,158.3 343.7,156.3 341.7,154.1 340.0,151.6 338.6,149.0 337.5,146.2 336.7,143.4 336.2,140.5 335.9,137.6 335.9,134.7 336.1,131.9 336.4,129.2 336.9,126.5 337.5,124.0 338.2,121.5 339.0,119.1 339.9,116.8 340.8,114.5 341.8,112.4 342.9,110.2 344.0,108.2 345.2,106.2 346.6,104.3 348.0,102.5 349.5,100.7 351.2,99.1 352.9,97.6 354.8,96.3 356.7,95.0 358.7,93.9 360.7,92.9 362.8,92.0 364.9,91.2 367.1,90.6 369.3,90.0 371.5,89.5 373.7,89.1 376.0,88.7 378.4,88.5 380.7,88.3 383.1,88.3 385.6,88.4 388.0,88.6 390.5,89.0 393.0,89.6 395.4,90.5 397.7,91.5 400.0,92.8 402.1,94.3 404.1,96.0 405.8,97.8 407.4,99.9 408.8,102.1 409.9,104.4 410.9,106.8 411.6,109.2 412.1,111.7 412.5,114.2 412.7,116.7 412.7,119.1 412.7,121.6" fill="#2166ac"/>
<polygon points="405.7,122.9 405.9,124.9 405.9,126.9 405.8,128.9 405.5,130.9 405.1,132.9 404.5,134.9 403.8,136.8 402.8,138.6 401.7,140.4 400.5,142.0 399.1,143.5 397.6,144.9 396.0,146.2 394.3,147.4 392.6,148.5 390.9,149.5 389.2,150.5 387.4,151.4 385.6,152.4 383.7,153.3 381.8,154.3 379.8,155.2 377.8,156.1 375.6,157.0 373.3,157.8 370.9,158.5 368.4,159.0 365.8,159.3 363.2,159.4 360.5,159.2 357.9,158.7 355.4,157.9 353.0,156.7 350.7,155.3 348.7,153.6 346.9,151.6 345.4,149.4 344.1,147.0 343.2,144.6 342.5,142.0 342.1,139.4 342.0,136.8 342.0,134.3 342.2,131.9 342.6,129.5 343.1,127.2 343.6,125.0 344.2,122.9 344.9,120.9 345.6,119.0 346.3,117.1 347.0,115.3 347.8,113.5 348.7,111.8 349.5,110.1 350.5,108.4 351.5,106.9 352.7,105.3 353.9,103.9 355.2,102.5 356.5,101.2 358.0,100.0 359.5,98.9 361.1,97.8 362.7,96.9 364.4,96.0 366.2,95.2 368.0,94.5 369.8,93.9 371.7,93.4 373.6,92.9 375.6,92.6 377.6,92.4 379.6,92.4 381.6,92.5 383.7,92.7 385.7,93.2 387.6,93.8 389.5,94.6 391.4,95.6 393.1,96.7 394.7,98.0 396.2,99.4 397.6,100.9 398.8,102.6 399.9,104.3 400.8,106.0 401.7,107.8 402.5,109.7 403.1,111.5 403.7,113.4 404.3,115.2 404.7,117.1 405.1,119.0 405.5,121.0" fill="#053061"/>
<circle cx="379.7" cy="126.5" r="86.00" fill="none" stroke="#c4c4c4" stroke-width="0.8"/>
<circle cx="379.7" cy="126.5" r="69.46" fill="none" stroke="#c4c4c4" stroke-width="0.8"/>
<circle cx="379.7" cy="126.5" r="54.22" fill="none" stroke="#c4c4c4" stroke-width="0.8"/>
<circle cx="379.7" cy="126.5" r="39.91" fill="none" stroke="#c4c4c4" stroke-width="0.8"/>
<circle cx="379.7" cy="126.5" r="13.03" fill="none" stroke="#c4c4c4" stroke-width="0.7"/>
<circle cx="379.7" cy="126.5" r="26.26" fill="none" stroke="#c4c4c4" stroke-width="0.7"/>
<line x1="379.70" y1="100.24" x2="379.70" y2="152.76" stroke="#c4c4c4" stroke-width="0.7"/>
<line x1="366.57" y1="103.75" x2="392.83" y2="149.25" stroke="#c4c4c4" stroke-width="0.7"/>
<line x1="356.95" y1="113.37" x2="402.45" y2="139.63" stroke="#c4c4c4" stroke-width="0.7"/>
<line x1="353.44" y1="126.50" x2="405.96" y2="126.50" stroke="#c4c4c4" stroke-width="0.7"/>
<line x1="356.95" y1="139.63" x2="402.45" y2="113.37" stroke="#c4c4c4" stroke-width="0.7"/>
<line x1="366.57" y1="149.25" x2="392.83" y2="103.75" stroke="#c4c4c4" stroke-width="0.7"/>
<line x1="379.70" y1="152.76" x2="379.70" y2="233.80" stroke="#c4c4c4" stroke-width="0.7" stroke-dasharray="2.4 1.2"/>
<line x1="392.83" y1="149.25" x2="433.35" y2="219.42" stroke="#c4c4c4" stroke-width="0.7" stroke-dasharray="2.4 1.2"/>
<line x1="402.45" y1="139.63" x2="472.62" y2="180.15" stroke="#c4c4c4" stroke-width="0.7" stroke-dasharray="2.4 1.2"/>
<line x1="405.96" y1="126.50" x2="487.00" y2="126.50" stroke="#c4c4c4" stroke-width="0.7" stroke-dasharray="2.4 1.2"/>
<line x1="402.45" y1="113.37" x2="472.62" y2="72.85" stroke="#c4c4c4" stroke-width="0.7" stroke-dasharray="2.4 1.2"/>
<line x1="392.83" y1="103.75" x2="433.35" y2="33.58" stroke="#c4c4c4" stroke-width="0.7" stroke-dasharray="2.4 1.2"/>
<line x1="379.70" y1="100.24" x2="379.70" y2="19.20" stroke="#c4c4c4" stroke-width="0.7" stroke-dasharray="2.4 1.2"/>
<line x1="366.57" y1="103.75" x2="326.05" y2="33.58" stroke="#c4c4c4" stroke-width="0.7" stroke-dasharray="2.4 1.2"/>
<line x1="356.95" y1="113.37" x2="286.78" y2="72.85" stroke="#c4c4c4" stroke-width="0.7" stroke-dasharray="2.4 1.2"/>
<line x1="353.44" y1="126.50" x2="272.40" y2="126.50" stroke="#c4c4c4" stroke-width="0.7" stroke-dasharray="2.4 1.2"/>
<line x1="356.95" y1="139.63" x2="286.78" y2="180.15" stroke="#c4c4c4" stroke-width="0.7" stroke-dasharray="2.4 1.2"/>
<line x1="366.57" y1="149.25" x2="326.05" y2="219.42" stroke="#c4c4c4" stroke-width="0.7" stroke-dasharray="2.4 1.2"/>
<path d="M278.2,98.7 L280.1,98.9 L281.9,99.7 L283.0,99.6 L284.1,99.5 L285.9,98.7 L287.1,97.6 L288.6,97.3 L290.2,96.2 L291.3,95.6 L292.9,95.9 L293.9,95.6 L295.2,94.9 L296.2,94.8 L297.2,94.0 L298.6,93.2 L300.2,93.2 L301.3,93.3 L302.5,93.6 L303.7,92.8 L304.4,91.7 L303.0,91.2 L300.9,91.1 L299.8,91.4 L298.7,91.8 L297.6,92.0 L296.4,91.8 L295.3,91.9 L294.1,92.4 L292.8,92.0 L291.6,92.3 L289.6,93.0 L287.5,93.7 L286.8,92.9 L288.6,92.3 L289.8,91.5 L290.7,91.1 L292.7,91.0 L294.1,91.2 L295.7,89.8 L297.4,88.8 L298.2,88.7 L298.5,90.2 L300.2,90.1 L301.4,89.9 L302.4,89.3 L304.1,89.3 L305.8,89.2 L307.3,89.3 L308.8,89.4 L309.9,88.8 L310.9,87.9 L312.2,86.6 L313.5,87.0 L315.4,86.8 L316.6,87.1 L318.0,87.2 L319.2,87.2 L321.2,87.3 L322.8,87.7 L324.1,88.9 L325.9,89.6 L327.3,91.1 L328.2,91.8 L329.1,92.5 L330.2,93.1 L331.5,93.8 L333.1,94.2 L332.3,95.1 L331.8,95.6 L330.6,95.2 L331.4,95.9 L332.7,96.3 L333.5,96.2 L335.0,95.8 L336.0,95.4 L337.5,94.7 L338.9,94.9 L340.2,95.4 L341.7,95.4 L343.1,95.5 L344.0,96.4 L345.2,95.9 L346.5,96.3 L348.2,96.6 L349.3,96.9 L350.8,97.3 L350.4,96.2 L351.5,95.7 L352.6,95.9 L353.7,95.7 L354.7,95.4 L355.8,94.7 L356.7,94.2 L358.0,94.3 L359.0,94.0 L359.1,92.8 L359.4,91.8 L360.2,90.6 L360.8,91.7 L360.6,93.4 L361.3,92.6 L361.6,91.2 L361.5,90.0 L361.7,89.2 L361.9,87.5 L362.4,85.8 L363.1,84.3 L364.2,82.8 L365.5,81.6 L367.0,80.7 L366.1,82.0 L364.8,83.3 L364.0,84.6 L363.5,86.4 L363.6,88.0 L364.5,87.8 L365.4,87.3 L366.8,86.7 L367.1,88.1 L367.9,88.1 L369.3,88.8 L370.2,89.9 L370.7,90.8 L370.3,92.0 L369.3,92.4 L368.6,93.2 L368.6,94.7 L369.6,94.4 L370.7,94.0 L371.8,94.0 L372.4,94.9 L373.0,95.0 L372.3,95.8 L371.4,96.6 L370.5,96.4 L369.9,96.8 L370.6,97.6 L371.6,98.3 L372.5,98.7 L373.1,99.5 L372.3,99.9 L371.9,101.0 L371.5,102.0 L370.9,102.9 L370.0,104.0 L368.9,103.9 L367.9,104.3 L366.7,104.4 L365.4,104.8 L364.2,105.5 L362.9,105.8 L362.0,106.2 L360.9,106.3 L360.6,107.1 L360.2,108.0 L359.9,109.3 L359.6,110.5 L358.3,110.6 L358.1,111.6 L357.3,111.4 L357.2,112.4 L356.1,113.2 L355.1,114.0 L354.1,114.5 L353.0,114.6 L352.5,115.8 L352.2,116.7 L351.1,117.2 L352.5,117.7 L352.7,118.5 L351.8,119.3 L351.1,120.4 L351.1,121.4 L350.8,122.3 L351.7,122.8 L351.2,123.5 L349.9,123.5 L351.1,124.0 L351.9,124.7 L353.1,124.4 L354.0,123.7 L355.3,123.8 L356.1,124.6 L355.2,125.2 L353.9,125.4 L352.9,125.8 L351.7,126.3 L352.4,126.7 L351.6,127.5 L350.2,127.5 L349.8,128.1 L351.1,128.3 L352.4,128.6 L353.3,129.0 L353.3,130.0 L352.5,130.6 L351.3,130.7 L349.9,130.5 L348.6,130.0 L348.7,128.9 L347.8,128.4 L347.0,127.9 L345.6,127.7 L345.0,126.5 L344.0,125.6 L342.6,124.6 L341.3,123.8 L339.9,123.2 L338.2,123.2 L338.0,124.3 L336.0,124.6 L335.9,125.7 L335.3,127.3 L334.3,128.5 L333.6,130.1 L333.3,131.8 L333.3,132.8 L332.2,132.8 L331.0,133.2 L329.4,134.0 L328.3,135.1 L328.4,136.0 L329.8,136.4 L331.9,135.9 L333.1,135.1 L334.5,136.1 L336.2,136.8 L337.7,136.3 L338.8,135.0 L340.5,135.2 L342.0,134.6 L343.8,134.1 L344.2,135.4 L344.3,136.7 L344.0,138.1 L343.5,139.3 L342.4,140.3 L340.9,141.1 L340.7,142.2 L341.6,143.1 L342.9,143.3 L344.0,143.4 L343.0,144.8 L342.1,146.1 L340.9,147.4 L339.9,148.6 L339.5,150.2 L339.5,151.6 L338.7,153.1 L338.2,154.7 L337.3,155.3 L336.1,154.8 L334.7,154.1 L333.1,153.4 L332.2,151.7 L331.4,150.1 L330.3,148.2 L328.8,147.6 L326.7,146.8 L324.9,146.1 L323.9,145.5 L325.6,146.4 L327.4,147.3 L328.8,148.6 L329.6,150.4 L328.7,151.0 L327.7,149.9 L327.1,151.0 L325.9,151.8 L325.7,153.1 L326.1,154.6 L327.5,155.5 L328.7,155.6 L327.6,156.7 L326.1,156.2 L324.8,155.1 L323.9,154.2 L322.4,153.5 L321.3,152.7 L322.3,151.8 L323.8,152.6 L325.0,152.6 L323.7,151.7 L322.9,150.6 L322.3,150.6 L321.3,149.1 L320.0,148.2 L318.6,147.9 L317.5,148.3 L317.1,149.3 L316.5,148.5 L315.6,147.3 L314.6,145.8 L313.8,145.4 L312.5,145.8 L311.1,145.1 L311.4,144.2 L310.3,145.0 L308.5,144.5 L307.5,144.1 L307.0,144.6 L305.6,145.5 L303.8,144.7 L302.3,143.4 L301.5,142.0 L300.0,141.1 L298.4,139.7 L296.7,139.2 L295.4,139.3 L293.4,140.2 L291.9,141.0 L290.7,141.4 L289.8,142.2 L287.7,142.6 L286.5,142.1 L286.5,140.9 L287.9,139.7 L289.2,138.6 L290.7,137.7 L292.7,137.6 L293.9,136.3 L294.1,135.0 L293.5,133.6 L294.6,132.2 L294.3,130.2 L294.4,128.3 L294.0,127.1 L292.3,127.6 L292.3,126.0 L292.9,124.5 L293.1,122.7 L293.4,120.8 L293.0,119.2 L291.9,117.6 L291.0,115.9 L289.7,115.0 L288.5,114.4 L287.4,114.7 L285.7,113.8 L284.6,113.5 L283.5,113.3 L282.3,112.8 L281.1,113.0 L280.0,112.8 L278.7,113.4 L276.7,114.2 L275.8,114.8 L274.7,115.1 L273.4,116.3 L272.2,118.0 L272.5,119.9 L272.7,121.1 L272.8,122.2 L273.1,124.1 L274.4,125.2 L276.4,125.8 L277.5,126.5 L277.6,127.5 L278.3,128.6 L278.0,129.8 L278.4,130.9 L278.1,132.2 L276.5,132.1 L274.7,131.1 L272.6,130.8 M279.4,135.4 L281.1,136.9 L281.3,137.9 L282.1,138.8 L282.0,140.0 L282.4,141.0 L282.3,143.1 L282.3,144.3 L281.8,145.5 L281.1,146.9 L281.2,148.3 L280.9,149.8 L280.7,151.2 L280.5,152.3 L280.2,153.5 L279.7,154.8 L278.7,153.2 L278.1,152.1 L278.1,150.9 L277.6,148.8 L279.0,148.8 L279.4,146.9 L280.2,145.9 L280.4,144.9 L280.2,143.5 L280.7,142.2 L281.2,141.1 L281.1,140.0 L280.3,138.2 L279.8,136.8 L279.4,135.4Z M276.4,155.3 L278.0,155.5 L279.4,156.4 L280.2,158.4 L280.9,160.5 L280.9,161.6 L281.1,162.8 L280.6,164.9 L280.0,166.0 M351.6,155.1 L351.6,153.2 L351.2,151.8 L351.8,149.9 L352.2,149.0 L352.9,148.0 L353.9,146.4 L355.1,144.7 L356.4,143.7 L357.8,143.9 L358.8,143.5 L358.2,143.0 L358.6,141.5 L359.7,142.1 L359.8,140.6 L360.8,139.5 L362.0,138.2 L363.1,136.9 L363.8,135.8 L363.7,134.8 L363.0,133.9 L363.1,133.1 L363.7,132.0 L364.5,132.2 L365.0,131.1 L366.0,131.5 L366.8,132.2 L367.9,132.0 L368.0,131.3 L369.3,131.6 L370.5,131.8 L371.4,132.3 L372.1,132.9 L373.0,133.2 L374.0,133.3 L375.2,133.5 L375.8,134.2 L376.2,135.2 L375.5,135.9 L376.2,136.7 L377.1,137.1 L377.3,138.0 L376.3,138.4 L375.6,139.3 L374.8,140.3 L374.5,141.7 L373.7,142.6 L373.6,143.7 L372.8,144.9 L373.0,145.8 L372.0,146.0 L371.2,147.1 L370.3,147.7 L370.5,148.8 L370.2,150.1 L369.3,149.4 L368.2,149.6 L369.2,150.6 L368.6,151.4 L367.1,151.7 L365.9,151.5 L364.6,151.1 L363.5,151.5 L362.2,152.0 L360.8,152.1 L359.7,151.7 L358.6,151.7 L357.5,152.4 L356.0,153.3 L354.4,154.1 L353.0,155.1 L351.6,155.1Z M351.6,155.1 L351.4,154.1 L351.6,153.2 L351.2,151.8 L352.2,150.6 L351.8,149.9 L352.6,149.4 L352.9,148.0 L353.1,146.9 L353.9,146.4 L354.5,145.1 L355.1,144.7 L355.6,144.6 L356.4,143.7 L357.8,143.9 L358.8,143.5 L358.2,143.0 L358.6,141.5 L359.7,142.1 L359.8,140.6 L360.8,139.5 L361.6,139.1 L362.0,138.2 L362.4,137.5 L363.1,136.9 L363.8,135.8 L363.7,134.8 L363.0,133.9 L363.1,133.1 L363.7,132.0 L364.5,132.2 L365.0,131.1 L366.0,131.5 L366.8,132.2 L367.9,132.0 L368.0,131.3 L369.3,131.6 L370.5,131.8 L371.4,132.3 L372.1,132.9 L373.0,133.2 L374.0,133.3 L375.2,133.5 L375.8,134.2 L376.2,135.2 L375.5,135.9 L376.2,136.7 L377.1,137.1 L377.3,138.0 L376.3,138.4 L375.6,139.3 L374.8,140.3 L374.5,141.7 L373.7,142.6 L373.6,143.7 L372.8,144.9 L373.0,145.8 L372.0,146.0 L371.2,147.1 L370.3,147.7 L370.5,148.8 L370.2,150.1 L369.3,149.4 L368.2,149.6 L369.2,150.6 L368.6,151.4 L367.1,151.7 L365.9,151.5 L364.6,151.1 L363.5,151.5 L362.2,152.0 L360.8,152.1 L359.7,151.7 L358.6,151.7 L357.5,152.4 L357.1,153.1 L356.0,153.3 L355.1,154.4 L354.4,154.1 L353.5,154.0 L353.0,155.1 L351.6,155.1Z M366.8,158.4 L366.7,157.3 L366.5,156.0 L367.5,155.3 L367.8,156.6 L368.7,156.2 L369.7,156.3 L370.9,156.3 L371.6,157.1 L372.0,158.3 L371.2,159.3 L369.9,159.7 L368.5,159.9 L367.5,159.2 L366.8,158.4Z M345.6,142.6 L345.6,141.3 L345.9,139.8 L346.2,138.3 L346.9,136.8 L347.2,135.5 L346.6,134.1 L347.4,133.4 L348.3,134.3 L349.3,135.2 L350.7,135.4 L351.9,134.5 L352.5,133.3 L353.2,131.9 L354.2,131.5 L353.6,130.4 L353.6,129.0 L353.9,127.9 L354.8,126.9 L356.1,126.6 L357.8,126.7 L358.5,127.6 L358.3,128.6 L358.6,129.5 L357.6,130.1 L357.6,131.0 L357.5,131.8 L356.8,132.8 L356.4,134.1 L355.8,135.2 L355.3,136.3 L354.2,137.1 L353.5,138.2 L353.3,139.4 L352.9,140.7 L352.2,141.4 L350.6,141.3 L350.5,140.1 L349.2,139.8 L348.5,141.0 L347.6,141.6 L347.0,140.7 L346.2,142.0 L345.6,142.6Z M345.6,142.6 L345.6,141.3 L345.9,139.8 L346.2,138.3 L346.0,137.6 L346.9,136.8 L347.2,135.5 L346.6,134.1 L347.4,133.4 L348.3,134.3 L349.3,135.2 L350.7,135.4 L351.9,134.5 L352.5,133.3 L353.2,131.9 L354.2,131.5 L353.6,130.4 L353.6,129.0 L353.9,127.9 L354.8,126.9 L356.1,126.6 L357.0,127.3 L357.8,126.7 L358.5,127.6 L358.3,128.6 L358.6,129.5 L357.6,130.1 L357.6,131.0 L357.5,131.8 L356.8,132.8 L356.4,134.1 L355.8,135.2 L355.3,136.3 L354.2,137.1 L353.5,138.2 L353.3,139.4 L352.9,140.7 L352.2,141.4 L350.6,141.3 L350.5,140.1 L349.2,139.8 L348.5,141.0 L347.6,141.6 L347.0,140.7 L346.2,142.0 L345.6,142.6Z M355.9,114.2 L356.4,115.4 L357.8,115.1 L359.3,115.4 L359.7,116.7 L359.0,117.7 L358.5,118.8 L358.8,119.7 L358.0,120.5 L356.2,120.3 L354.7,121.0 L353.5,121.4 L352.6,120.5 L353.0,119.4 L353.1,118.1 L353.3,116.9 L353.7,115.5 L354.8,114.6 L355.9,114.2Z M355.9,114.2 L356.4,115.4 L357.8,115.1 L359.3,115.4 L359.7,116.7 L359.0,117.7 L358.5,118.8 L358.8,119.7 L358.0,120.5 L357.1,119.8 L356.2,120.3 L355.5,121.0 L354.7,121.0 L353.5,121.4 L352.6,120.5 L353.0,119.4 L353.1,118.1 L353.3,116.9 L353.7,115.5 L354.8,114.6 L355.9,114.2Z M360.5,112.8 L359.2,113.0 L358.9,114.3 L359.7,115.6 L360.2,117.0 L361.4,117.0 L362.3,116.1 L362.6,114.9 L361.6,113.9 L360.5,112.8Z M360.5,112.8 L359.2,113.0 L358.9,114.3 L359.7,115.6 L360.2,117.0 L361.4,117.0 L362.3,116.1 L362.6,114.9 L361.6,113.9 L360.7,113.7 L360.5,112.8Z M362.3,130.2 L362.0,129.3 L362.1,128.0 L362.2,126.8 L363.5,127.1 L363.8,127.9 L364.7,127.3 L366.0,127.5 L367.1,126.9 L368.0,126.3 L369.0,126.9 L370.1,127.7 L370.9,128.7 L371.3,129.9 L371.2,131.0 L370.1,131.2 L369.0,131.0 L367.7,130.9 L366.6,130.4 L365.7,130.0 L364.5,130.4 L363.6,129.9 L362.3,130.2Z M362.3,130.2 L362.0,129.3 L362.1,128.0 L362.2,126.8 L363.5,127.1 L363.8,127.9 L364.7,127.3 L366.0,127.5 L367.1,126.9 L368.0,126.3 L369.0,126.9 L370.1,127.7 L370.9,128.7 L371.3,129.9 L371.2,131.0 L370.1,131.2 L369.0,131.0 L367.7,130.9 L366.6,130.4 L365.7,130.0 L364.5,130.4 L363.6,129.9 L362.3,130.2Z M360.0,130.0 L359.5,128.6 L359.6,127.2 L359.8,125.8 L361.4,125.7 L361.8,126.7 L361.3,128.1 L361.4,129.2 L360.9,129.9 L360.0,130.0Z M360.0,130.0 L359.5,128.6 L359.6,127.2 L359.8,125.8 L361.4,125.7 L361.8,126.7 L361.3,128.1 L361.4,129.2 L360.9,129.9 L360.0,130.0Z M360.8,121.1 L360.7,119.9 L361.0,118.6 L362.4,117.9 L363.4,118.2 L363.2,119.5 L363.2,120.8 L362.1,121.5 L360.8,121.1Z M360.8,121.1 L360.7,119.9 L361.0,118.6 L362.4,117.9 L363.4,118.2 L363.2,119.5 L363.2,120.8 L362.1,121.5 L360.8,121.1Z M356.3,124.3 L356.2,125.1 L357.4,126.4 L358.8,126.0 L359.0,124.9 L357.8,124.2 L356.3,124.3Z M356.3,124.3 L356.2,125.1 L356.5,126.2 L357.4,126.4 L358.8,126.0 L359.0,124.9 L357.8,124.2 L356.3,124.3Z M355.8,122.5 L356.5,123.7 L358.6,123.7 L358.9,122.6 L357.7,121.8 L355.8,122.5Z M355.8,122.5 L356.5,123.7 L357.5,124.3 L358.6,123.7 L358.9,122.6 L357.7,121.8 L357.0,122.4 L355.8,122.5Z M344.8,128.3 L344.3,129.6 L345.3,131.0 L345.2,132.3 L346.4,131.5 L347.7,129.9 L347.4,128.8 L346.2,128.3 L344.8,128.3Z M344.8,128.3 L344.3,129.6 L344.5,129.9 L345.3,131.0 L345.2,132.3 L346.4,131.5 L347.5,130.5 L347.7,129.9 L347.4,128.8 L346.2,128.3 L344.8,128.3Z M364.7,127.0 L364.8,126.0 L365.9,125.2 L367.6,125.7 L367.5,126.5 L366.2,127.2 L364.7,127.0Z M364.7,127.0 L364.8,126.0 L365.9,125.2 L366.7,126.0 L367.6,125.7 L367.5,126.5 L366.2,127.2 L364.7,127.0Z M330.0,156.0 L331.0,157.5 L331.0,159.6 L332.3,160.3 L332.4,161.9 L333.7,161.5 L334.3,160.1 L335.2,159.0 L334.9,157.3 L335.5,156.6 L336.6,155.6 L335.2,155.4 L333.3,155.7 L331.4,155.7 L330.0,156.0Z M338.1,93.6 L336.7,94.7 L335.4,95.2 L333.8,95.5 L332.5,95.4 L333.5,94.4 L335.3,93.9 L337.1,93.5 L338.1,93.6Z M360.9,87.4 L359.8,88.7 L359.5,87.7 L360.4,86.5 L360.9,87.4Z M344.5,93.7 L343.6,94.3 L342.5,93.5 L341.4,93.1 L342.8,93.0 L344.5,93.7Z M349.1,227.2 L349.5,225.9 L349.7,224.8 L350.3,223.4 L351.3,222.5 L352.4,221.4 L352.8,220.2 L353.8,219.5 L354.7,218.6 L355.6,217.4 L356.2,216.6 L357.5,216.0 L358.5,214.9 L359.8,214.0 L361.0,213.9 L362.4,213.1 L363.5,212.5 L364.6,212.2 L365.4,210.4 L365.5,208.7 L366.7,207.0 L367.6,206.5 L368.6,205.8 L370.3,205.0 L371.3,203.9 L371.6,203.1 L371.9,202.3 L372.7,202.2 L373.6,203.5 L375.7,203.4 L377.0,203.8 L378.4,202.9 L380.0,202.4 L381.7,201.6 L383.6,201.0 L384.9,200.7 L386.2,200.8 L387.4,200.4 L388.8,200.2 L389.9,199.8 L391.1,199.9 L392.5,199.2 L393.9,199.4 L393.4,200.5 L394.1,201.9 L394.6,203.3 L393.6,204.5 L394.7,205.0 L396.6,205.8 L398.2,205.4 L400.2,205.6 L401.4,205.8 L402.3,207.0 L403.7,207.1 L405.1,207.0 L406.3,207.0 L407.5,207.3 L408.5,205.7 L408.5,204.7 L407.9,203.6 L408.4,202.5 L409.4,201.9 L411.6,201.6 L413.1,201.1 L414.7,201.6 L416.2,201.0 L417.7,201.1 L419.2,200.4 L420.6,200.4 L421.7,198.7 L422.9,197.9 L424.5,197.4 L426.1,196.6 L426.8,195.6 L426.6,194.0 L426.1,192.8 L425.8,190.9 L425.0,189.0 L423.8,187.7 L423.8,186.7 L422.7,187.9 L422.0,189.2 L420.4,190.4 L419.2,190.3 L418.1,190.4 L417.9,191.5 L416.2,192.3 L414.7,192.4 L413.8,192.5 L413.1,191.4 L411.8,190.8 L411.5,189.5 L410.6,189.4 L410.4,188.8 L410.7,187.9 L412.0,187.3 L412.8,186.3 L412.6,185.5 L413.6,185.1 L414.5,184.4 L415.3,183.1 L415.8,182.1 L416.9,181.5 L417.7,180.8 L419.8,180.7 L421.5,180.0 L422.6,179.3 L423.3,178.5 L424.2,176.8 L423.1,175.6 L422.0,175.3 L420.8,175.5 L418.7,175.5 L417.1,175.6 L416.8,173.9 L416.4,171.9 L415.4,173.1 L414.5,174.5 L414.0,175.6 L415.0,176.4 L416.1,175.7 L415.5,176.7 L414.7,178.4 L413.8,178.0 L412.4,177.4 L412.9,176.7 L411.2,176.9 L410.2,177.3 L409.9,178.9 L410.1,179.8 L409.8,181.6 L410.0,183.4 L410.2,184.5 L411.2,185.6 L412.4,185.7 L411.6,186.4 L410.7,187.4 L410.0,188.1 L409.5,187.7 L408.5,188.2 L407.5,188.9 L407.3,189.9 L406.2,189.9 L406.8,191.3 L407.6,191.7 L407.8,192.6 L409.2,192.7 L409.0,193.3 L408.7,194.2 L409.0,195.6 L408.1,195.8 L407.2,195.7 L406.1,194.5 L406.1,193.6 L405.0,193.2 L403.6,192.2 L402.6,191.2 L402.0,189.8 L400.5,188.7 L398.5,188.1 L396.6,187.4 L395.1,185.9 L394.1,185.6 L392.9,186.3 L393.1,187.8 L394.7,188.7 L395.8,190.2 L397.4,190.4 L398.2,190.5 L398.2,191.2 L399.5,191.4 L401.6,192.1 L401.7,192.7 L399.8,192.3 L399.7,193.5 L400.6,194.4 L400.1,195.4 L399.8,196.5 L399.3,196.3 L399.4,195.1 L398.5,193.4 L397.2,192.7 L396.1,192.4 L394.9,192.2 L393.9,191.6 L392.2,190.8 L391.5,190.2 L391.0,189.0 L390.1,188.4 L389.3,188.4 L388.5,189.3 L388.0,189.5 L387.0,190.5 L385.3,190.6 L384.2,190.3 L383.3,190.9 L383.1,192.0 L383.4,192.9 L382.3,193.9 L380.7,194.7 L379.7,196.1 L379.3,196.9 L379.9,197.9 L378.8,199.5 L377.5,200.2 L376.8,201.0 L375.4,201.2 L374.0,201.0 L372.7,201.9 L371.8,201.7 L371.4,200.6 L370.7,199.9 L369.4,200.0 L368.1,199.9 L368.7,197.8 L367.9,197.0 L369.0,195.1 L369.5,193.3 L369.6,191.3 L369.3,190.3 L370.8,189.6 L372.0,190.0 L373.0,190.0 L374.3,189.9 L375.5,190.4 L376.6,190.7 L377.7,190.6 L378.4,188.8 L378.5,187.0 L377.7,185.1 L376.9,184.4 L375.4,183.8 L375.0,182.9 L376.3,182.4 L378.2,182.8 L378.0,181.1 L378.7,181.6 L379.9,181.5 L381.1,180.5 L381.2,179.4 L382.4,178.7 L383.3,177.7 L383.8,176.2 L384.4,175.5 L385.7,175.3 L386.9,174.7 L387.2,174.3 L386.7,172.9 L386.3,172.1 L386.0,170.5 L386.3,170.0 L387.2,169.1 L387.6,168.9 L387.8,170.6 L388.2,170.7 L387.6,172.1 L387.5,172.8 L388.0,173.5 L388.9,174.0 L389.7,173.6 L390.9,173.0 L391.6,173.6 L392.9,172.6 L394.7,171.3 L395.7,171.6 L395.9,171.0 L396.3,169.7 L395.6,168.0 L395.6,166.9 L396.2,166.4 L397.3,167.0 L397.7,166.5 L397.2,165.0 L396.3,164.6 L396.1,164.1 L396.9,163.3 L398.5,162.5 L398.9,161.8 L399.8,161.1 L398.9,161.2 L398.3,160.8 L397.5,161.4 L396.5,162.4 L395.3,163.4 L394.1,163.0 L393.4,161.7 L392.9,160.5 L392.7,159.5 L393.1,158.2 L393.5,156.8 L393.6,156.0 L392.9,155.6 L391.9,156.0 L391.8,157.2 L392.0,158.2 L391.4,159.6 L391.0,161.2 L390.9,162.6 L391.2,163.7 L392.3,164.1 L392.8,164.9 L392.5,165.8 L391.8,166.7 L392.0,168.1 L392.1,169.9 L391.1,170.6 L391.1,171.5 L390.1,171.7 L389.6,170.6 L388.9,169.7 L388.5,168.7 L387.7,167.0 L387.1,166.0 L387.1,167.0 L386.3,168.0 L385.6,168.7 L384.9,168.9 L383.8,167.9 L383.2,166.3 L383.0,164.2 L383.0,163.2 L383.8,162.3 L384.6,161.2 L385.4,160.7 L386.1,159.2 L386.6,157.4 L386.5,156.0 L387.0,154.8 L387.0,153.8 L387.5,153.0 L388.0,152.1 L388.3,151.3 L389.0,150.8 L389.5,149.7 L390.5,148.8 L391.4,148.5 L393.0,148.7 L392.8,149.6 L393.4,149.4 L394.5,149.3 L395.9,148.8 L397.5,148.8 L398.7,148.7 L399.8,149.6 L399.9,150.5 L399.1,151.3 L397.5,151.9 L396.4,152.3 L397.7,152.7 L398.9,154.2 L400.2,154.1 L400.6,153.3 L401.3,152.2 L400.5,151.3 L400.5,149.6 L401.5,149.1 L400.8,148.3 L399.3,146.9 L400.3,146.4 L401.7,147.4 L401.5,146.1 L401.8,145.0 L402.3,143.5 L402.9,143.4 L403.3,141.8 L403.6,140.9 L403.5,140.0 L402.4,139.6 L404.2,138.4 L404.9,137.7 L405.4,137.4 L406.1,136.9 L404.5,137.0 L403.2,136.6 L402.0,136.0 L400.7,134.8 L400.4,134.0 L401.2,133.3 L402.9,133.7 L404.7,134.6 L406.7,135.0 L408.1,134.9 L409.2,136.1 L408.8,134.9 L407.0,133.8 L404.9,133.7 L403.6,132.9 L402.4,133.0 L401.5,132.3 L402.7,131.8 L404.1,131.7 L402.9,131.0 L403.3,130.2 L401.3,129.9 L400.9,128.7 L400.6,127.6 L399.3,127.5 L398.4,126.2 L397.9,124.6 L397.1,123.4 L395.3,122.5 L395.6,121.9 L396.2,121.1 L396.0,119.9 L397.1,118.9 L398.7,119.6 L399.4,118.6 L399.3,117.8 L398.8,116.4 L399.0,115.4 L397.4,114.6 L398.0,112.7 L399.1,110.8 L398.7,110.0 L397.4,110.0 L396.6,109.0 L395.6,108.2 L394.4,108.9 L393.5,108.2 L392.3,107.0 L391.8,105.5 L391.5,104.4 L389.8,103.7 L389.3,102.9 L388.7,101.8 L388.5,101.0 L386.6,100.6 L385.2,100.8 L384.3,100.6 L384.0,99.2 L382.9,100.0 L381.6,99.9 L379.7,98.8 L378.2,97.3 L377.1,96.7 L375.5,96.5 L374.1,95.5 L374.3,94.3 L375.0,93.1 L375.6,92.8 L376.6,93.5 L377.4,94.2 L378.9,95.1 L379.7,93.5 L380.6,92.9 L381.2,93.1 L380.8,92.0 L380.3,90.7 L380.0,90.1 L381.6,90.1 L383.6,89.3 L385.1,88.4 L386.3,87.1 L387.9,87.0 L389.4,87.8 L390.8,87.9 L391.6,86.9 L392.2,85.7 L393.0,85.6 L392.6,83.6 L393.7,82.1 L394.5,81.6 L396.3,81.0 L396.9,79.7 L398.1,79.9 L399.6,78.4 L400.6,78.1 L400.6,79.2 L400.3,80.3 L399.6,81.8 L399.3,83.0 L398.6,84.4 L398.2,85.7 L396.5,86.9 L394.6,87.7 L393.0,88.9 L392.1,89.6 L390.3,90.6 L389.4,91.4 L391.0,90.8 L392.2,91.2 L392.9,91.1 L394.4,91.9 L395.9,90.6 L396.9,89.6 L398.0,89.9 L399.1,90.0 L399.9,91.5 L401.4,91.8 L402.9,92.8 L404.7,93.9 L406.0,93.3 L407.4,93.5 L408.9,93.3 L410.5,92.9 L411.7,92.9 L413.0,93.0 L413.0,92.0 L412.4,90.8 L411.5,90.0 L411.2,88.3 L411.6,86.7 L412.5,85.9 L413.7,85.2 L414.9,83.9 L415.7,83.1 L416.8,83.0 L418.0,82.4 L419.6,81.9 L421.0,82.1 L422.4,81.5 L423.6,81.0 L425.0,81.2 L426.3,81.5 L427.3,82.1 L427.8,83.3 L429.5,83.7 L431.3,83.6 L432.4,83.0 L434.4,83.7 L435.7,83.5 L435.9,81.8 L436.4,80.8 L437.1,79.4 L438.6,78.1 L439.8,77.8 L441.6,79.0 L442.9,80.1 L441.4,80.9 L439.9,82.1 L438.8,82.3 L438.7,83.6 L439.2,84.8 L437.3,85.7 L437.1,87.4 L438.2,87.7 L439.7,88.7 L440.7,89.4 L439.4,89.7 L437.9,90.1 L438.0,91.5 L439.2,92.2 L440.4,92.1 L442.2,93.3 L443.3,93.1 L443.6,91.3 L444.4,90.7 L443.6,90.2 L442.4,89.2 L441.8,88.1 L441.8,86.9 L442.8,87.2 L443.9,87.9 L445.2,88.2 L446.3,88.7 L447.4,88.7 L447.8,86.7 L449.2,85.1 L449.3,84.0 L449.9,83.0 L451.4,81.9 L452.4,82.8 L453.2,83.2 L452.9,81.1 L454.0,80.6 L455.3,80.2 L456.7,80.8 L458.2,80.7 L459.8,80.8 L461.5,80.2 L462.5,80.2 L463.7,80.9 L464.8,81.3 L465.8,81.7 L466.8,82.4 L467.9,82.5 L469.1,83.8 L470.1,85.3 L471.4,86.4 L472.4,87.8 L473.2,88.7 L474.1,89.7 L475.1,90.8 L477.0,90.5 L476.0,91.2 L475.2,92.3 L475.3,94.5 L476.8,95.9 L478.7,96.8 L479.7,97.3 L480.9,97.5 M484.3,121.4 L483.2,122.3 L482.0,122.9 L480.7,122.8 L479.4,123.4 L480.2,124.5 L480.2,125.6 L480.0,126.9 L480.5,128.3 L480.9,130.0 L481.2,131.8 L483.2,132.5 L484.5,133.8 M480.3,157.6 L478.9,157.7 L477.4,156.9 L475.5,156.7 L477.2,157.8 L476.7,159.2 L476.6,160.8 L474.6,161.5 L473.0,162.3 L472.9,161.1 L472.7,159.8 L471.5,161.3 L470.4,162.2 L469.1,162.7 L467.9,163.4 L466.1,164.0 L465.8,165.7 L465.0,167.2 L463.9,168.1 L463.5,169.4 L462.9,170.6 L462.8,171.6 L462.1,173.5 L461.3,174.1 L460.4,175.0 L459.1,175.9 L458.3,177.0 L457.2,176.6 L455.9,176.4 L455.8,178.1 L454.6,179.9 L453.2,180.8 L451.4,181.5 L450.1,181.7 L448.6,182.3 L446.7,181.8 L445.3,182.5 L444.1,182.5 L443.9,184.3 L444.9,184.4 L446.1,185.2 L447.4,185.0 L448.7,185.4 L450.5,185.5 L452.5,185.9 L452.8,184.7 L453.6,185.6 L454.7,186.1 L455.9,185.1 L456.7,184.5 L457.4,183.4 L457.7,182.1 L457.3,180.2 L456.9,178.5 L457.9,178.7 L459.0,179.2 L460.4,178.9 L461.6,178.7 L463.1,177.2 L464.4,177.0 L465.7,176.6 L467.0,177.9 L467.5,179.2 L467.5,181.4 L468.7,182.8 M443.5,210.2 L442.2,208.8 L440.9,207.6 L440.2,206.7 L438.3,206.0 L436.3,205.2 L434.6,204.1 L433.3,203.7 L432.2,202.9 L430.7,202.2 L429.1,201.1 L427.7,200.5 L426.2,199.2 L427.7,200.4 L429.0,200.8 L430.3,200.7 L430.0,199.4 L429.5,197.7 L430.3,199.3 L432.2,200.1 L433.8,200.6 L435.1,201.3 L436.4,201.6 L437.8,202.7 L439.3,202.9 L441.1,203.7 L442.5,204.0 L443.7,205.2 L444.7,205.9 L446.1,206.2 L448.1,206.5 M460.7,77.8 L460.2,76.2 L461.5,75.5 L463.0,75.5 L464.5,74.8 L466.0,75.1 L465.5,76.1 L465.0,77.1 L463.2,77.7 L462.0,77.7 L460.7,77.8Z M424.6,165.5 L424.5,166.9 L425.2,168.2 L425.7,169.4 L426.5,170.1 L427.8,170.6 L429.0,170.9 L430.4,171.4 L431.9,171.1 L432.6,171.9 L433.3,173.1 L434.3,174.2 L435.1,174.7 L436.2,173.9 L437.7,173.4 L439.0,172.1 L439.5,170.8 L438.5,169.2 L437.2,168.9 L436.2,168.3 L434.5,167.8 L433.1,167.1 L431.3,166.1 L430.1,166.3 L428.8,166.3 L427.6,165.3 L428.6,163.4 L427.2,162.3 L425.3,163.4 L424.6,165.5Z M439.7,74.5 L437.6,74.4 L436.5,73.9 L435.3,73.7 L434.6,73.0 L433.4,71.9 L432.1,71.7 L430.8,72.1 L429.5,72.5 L428.5,71.4 L426.4,71.9 L425.4,72.7 L424.3,73.3 L423.5,74.3 L421.8,74.1 L422.4,72.8 L423.0,71.1 L424.6,70.0 L426.4,68.8 L427.8,67.8 L429.0,67.1 L429.7,67.3 L430.6,68.0 L431.4,68.1 L433.0,69.3 L433.6,69.1 L435.5,69.1 L435.0,71.2 L435.9,71.8 L437.3,72.8 L438.7,73.4 L439.7,74.5Z M439.9,74.5 L439.8,72.9 L440.9,72.5 L442.3,71.3 L443.6,71.5 L442.8,73.2 L442.2,74.6 L440.7,74.9 L439.9,74.5Z M438.2,72.9 L437.3,72.0 L436.1,71.6 L436.2,70.6 L437.9,71.3 L439.3,71.3 L438.2,72.9Z M422.3,74.8 L420.9,75.6 L420.9,76.9 L419.7,77.1 L418.6,77.6 L417.5,78.5 L417.3,76.6 L416.6,75.8 L415.7,74.5 L416.2,73.4 L417.4,73.7 L418.4,74.2 L419.4,73.4 L420.5,75.2 L422.3,74.8Z M416.8,79.1 L414.9,79.0 L414.7,80.4 L414.0,81.0 L413.1,81.9 L412.0,81.2 L411.5,82.6 L411.3,84.3 L409.9,86.0 L409.6,87.3 L408.8,88.3 L409.8,87.7 L411.4,86.2 L411.9,84.8 L413.0,83.7 L414.1,82.3 L414.9,81.4 L415.9,80.1 L416.8,79.1Z M374.3,180.3 L375.9,180.1 L376.9,179.6 L378.3,179.7 L380.0,179.5 L381.0,178.9 L380.3,178.5 L381.2,176.8 L380.0,176.3 L379.8,175.5 L379.5,174.6 L378.7,173.9 L378.4,172.7 L378.0,172.0 L377.2,172.0 L377.7,171.3 L378.2,169.9 L377.1,169.6 L376.7,169.7 L377.4,168.4 L376.1,168.2 L375.3,169.7 L375.4,171.1 L375.3,172.7 L375.8,172.6 L375.6,173.6 L376.8,173.5 L377.0,174.8 L377.1,175.7 L375.8,175.8 L375.9,176.9 L375.0,177.9 L376.5,178.4 L377.0,178.7 L375.7,179.1 L374.3,180.3Z M374.1,177.2 L374.4,175.6 L374.9,173.9 L374.4,172.9 L373.0,172.7 L372.6,173.8 L371.3,173.9 L371.3,175.2 L371.4,176.2 L370.5,177.0 L370.9,177.8 L372.5,177.7 L374.1,177.2Z M395.4,197.4 L396.6,196.8 L397.8,196.2 L399.2,196.2 L399.0,197.4 L399.2,198.7 L398.1,198.6 L397.0,198.4 L395.5,197.9 L395.4,197.4Z M389.4,193.7 L391.1,193.4 L391.2,194.9 L391.5,196.2 L390.1,196.8 L390.1,195.1 L389.4,193.7Z M389.5,191.3 L390.3,190.4 L390.7,192.2 L390.0,192.8 L389.5,191.3Z M410.4,196.8 L412.2,196.2 L413.9,195.7 L412.5,196.8 L410.6,197.3 L410.4,196.8Z M421.1,192.0 L422.1,190.6 L423.1,189.4 L422.9,190.9 L422.3,192.1 L421.1,192.0Z M398.7,141.6 L398.0,140.3 L396.8,138.5 L395.9,137.0 L395.4,135.2 L395.2,133.4 L396.2,132.8 L396.6,134.0 L396.4,135.2 L396.9,136.4 L398.0,137.9 L398.7,139.3 L400.7,139.9 L400.4,141.0 L399.6,141.5 L398.7,141.6Z M398.7,141.6 L398.0,140.3 L397.3,139.3 L396.8,138.5 L396.5,137.7 L395.9,137.0 L396.1,135.9 L395.4,135.2 L395.6,134.2 L395.2,133.4 L396.2,132.8 L396.6,134.0 L396.6,135.2 L396.9,136.4 L397.0,137.7 L398.0,137.9 L398.7,139.3 L399.7,139.8 L400.7,139.9 L400.4,141.0 L399.6,141.5 L398.7,141.6Z M382.3,139.9 L383.5,141.7 L384.1,142.9 L384.8,143.1 L384.7,140.9 L385.3,140.7 L384.0,139.5 L384.2,138.7 L383.3,139.0 L382.3,139.9Z M382.3,139.9 L383.5,140.5 L383.5,141.7 L384.1,142.9 L384.8,143.1 L385.4,142.0 L384.7,140.9 L385.3,140.7 L384.4,140.3 L384.0,139.5 L384.2,138.7 L383.3,139.0 L382.3,139.9Z M383.8,138.9 L384.4,138.1 L385.5,137.9 L385.4,139.2 L384.2,139.3 L383.8,138.9Z M394.2,125.0 L393.2,124.1 L393.2,123.1 L394.4,122.5 L395.1,123.8 L394.2,125.0Z M392.7,126.0 L391.3,125.1 L392.7,125.1 L392.7,126.0Z M392.6,112.6 L391.0,112.1 L390.6,111.0 L389.4,109.7 L390.8,110.0 L392.5,111.3 L392.6,112.6Z M393.6,110.0 L392.9,109.0 L392.7,109.9 L393.6,110.0Z M380.1,101.8 L378.9,102.3 L378.6,101.6 L379.7,101.3 L380.1,101.8Z M382.6,196.7 L383.8,196.2 L383.5,197.0 L382.6,196.7Z M354.0,211.7 L355.0,211.6 L354.3,212.3 L354.0,211.7Z M479.4,92.7 L478.3,91.8 L477.5,90.9 L477.8,88.8 M339.1,32.3 L337.8,32.5 L338.4,32.0 L339.1,32.3Z M342.1,32.5 L341.1,32.3 L341.7,32.0 L342.1,32.5Z M345.0,32.6 L344.2,32.5 L344.6,32.2 L345.0,32.6Z M348.0,192.1 L348.6,192.5 L348.2,192.5 L348.0,192.1Z M345.4,189.4 L346.1,190.0 L345.6,189.9 L345.4,189.4Z M346.9,189.9 L347.2,190.2 L346.9,190.3 L346.9,189.9Z M351.4,133.9 L352.2,133.7 L351.8,133.1 L351.5,132.5 L350.8,132.8 L350.5,133.3 L350.7,134.0 L351.4,133.9Z M351.4,133.9 L352.2,133.7 L351.8,133.1 L351.5,132.5 L350.8,132.8 L350.5,133.3 L350.7,134.0 L351.4,133.9Z M358.3,131.7 L358.7,131.2 L358.9,130.5 L358.3,130.3 L357.6,130.0 L357.6,130.8 L357.7,131.6 L358.3,131.7Z M358.3,131.7 L358.7,131.2 L358.9,130.5 L358.3,130.3 L357.6,130.0 L357.6,130.8 L357.7,131.6 L358.3,131.7Z M360.3,125.2 L360.8,125.2 L360.7,124.8 L360.6,124.3 L360.1,124.4 L359.8,124.6 L359.8,125.1 L360.3,125.2Z M360.3,125.2 L360.8,125.2 L360.7,124.8 L360.6,124.3 L360.1,124.4 L359.8,124.6 L359.8,125.1 L360.3,125.2Z M361.4,124.1 L362.2,123.8 L362.4,123.3 L362.2,122.7 L361.3,122.8 L360.5,122.9 L360.9,123.6 L361.4,124.1Z M361.4,124.1 L362.2,123.8 L362.4,123.3 L362.2,122.7 L361.3,122.8 L360.5,122.9 L360.9,123.6 L361.4,124.1Z M363.8,118.8 L364.6,118.8 L365.0,118.1 L365.1,117.3 L364.4,117.3 L363.6,117.3 L363.6,118.1 L363.8,118.8Z M363.8,118.8 L364.6,118.8 L365.0,118.1 L365.1,117.3 L364.4,117.3 L363.6,117.3 L363.6,118.1 L363.8,118.8Z M364.6,121.1 L365.0,120.9 L365.3,120.5 L365.2,120.1 L364.8,120.0 L364.4,120.1 L364.5,120.6 L364.6,121.1Z M364.6,121.1 L365.0,120.9 L365.3,120.5 L365.2,120.1 L364.8,120.0 L364.4,120.1 L364.5,120.6 L364.6,121.1Z M365.5,121.7 L365.8,121.4 L366.2,121.2 L366.0,120.8 L365.7,120.6 L365.4,120.9 L365.4,121.3 L365.5,121.7Z M365.5,121.7 L365.8,121.4 L366.2,121.2 L366.0,120.8 L365.7,120.6 L365.4,120.9 L365.4,121.3 L365.5,121.7Z M365.0,124.0 L365.7,124.1 L365.7,123.4 L365.6,122.8 L365.0,122.6 L364.6,123.1 L364.4,123.9 L365.0,124.0Z M365.0,124.0 L365.7,124.1 L365.7,123.4 L365.6,122.8 L365.0,122.6 L364.6,123.1 L364.4,123.9 L365.0,124.0Z M364.5,125.1 L364.9,125.1 L365.0,124.7 L364.8,124.5 L364.4,124.3 L364.2,124.7 L364.1,125.0 L364.5,125.1Z M364.5,125.1 L364.9,125.1 L365.0,124.7 L364.8,124.5 L364.4,124.3 L364.2,124.7 L364.1,125.0 L364.5,125.1Z M352.2,123.8 L352.8,123.4 L353.3,122.8 L352.7,122.4 L352.0,121.9 L351.7,122.7 L351.6,123.4 L352.2,123.8Z M352.2,123.8 L352.8,123.4 L353.3,122.8 L352.7,122.4 L352.0,121.9 L351.7,122.7 L351.6,123.4 L352.2,123.8Z M343.9,132.0 L344.5,131.9 L344.2,131.0 L344.0,130.2 L343.5,130.5 L343.3,131.1 L343.5,131.9 L343.9,132.0Z M343.2,133.5 L343.6,133.1 L343.9,132.7 L343.3,132.5 L342.8,132.6 L342.4,133.0 L342.7,133.2 L343.2,133.5Z M330.6,134.9 L330.8,134.5 L330.7,133.8 L330.5,133.2 L330.2,133.5 L330.0,133.9 L330.3,134.5 L330.6,134.9Z M335.3,135.3 L335.7,134.9 L336.0,134.5 L335.4,134.4 L334.8,134.3 L334.5,134.8 L334.8,135.1 L335.3,135.3Z M331.4,152.7 L331.5,152.3 L330.9,151.1 L330.2,149.8 L330.2,150.5 L330.2,151.3 L330.9,152.4 L331.4,152.7Z M326.9,154.2 L327.1,154.0 L326.6,153.1 L326.1,152.3 L326.0,152.8 L326.0,153.3 L326.5,154.1 L326.9,154.2Z M345.2,134.3 L345.5,134.2 L345.5,133.8 L345.2,133.6 L344.9,133.5 L344.9,134.0 L344.9,134.4 L345.2,134.3Z M358.8,142.8 L358.9,142.3 L358.8,141.8 L358.3,141.8 L357.7,141.9 L358.0,142.4 L358.3,142.9 L358.8,142.8Z M358.8,142.8 L358.9,142.3 L358.8,141.8 L358.3,141.8 L357.7,141.9 L358.0,142.4 L358.3,142.9 L358.8,142.8Z M358.6,121.2 L359.0,121.0 L359.3,120.7 L359.1,120.4 L358.7,120.3 L358.2,120.4 L358.4,120.8 L358.6,121.2Z M358.6,121.2 L359.0,121.0 L359.3,120.7 L359.1,120.4 L358.7,120.3 L358.2,120.4 L358.4,120.8 L358.6,121.2Z M352.8,132.1 L353.0,131.8 L353.2,131.6 L352.8,131.5 L352.5,131.5 L352.4,131.8 L352.5,132.0 L352.8,132.1Z M351.8,134.7 L352.0,134.4 L352.0,134.1 L351.8,133.9 L351.5,134.1 L351.2,134.3 L351.5,134.5 L351.8,134.7Z M345.5,142.8 L345.8,142.6 L345.7,142.3 L345.4,142.1 L345.1,142.2 L345.2,142.5 L345.2,142.9 L345.5,142.8Z M363.2,118.1 L363.5,117.9 L363.7,117.7 L363.7,117.4 L363.4,117.3 L363.1,117.4 L363.1,117.7 L363.2,118.1Z M360.9,122.0 L361.1,121.9 L361.3,121.8 L361.1,121.6 L360.9,121.5 L360.7,121.6 L360.7,121.8 L360.9,122.0Z M363.6,125.4 L363.8,125.4 L363.8,125.1 L363.8,124.8 L363.5,124.9 L363.3,125.0 L363.3,125.3 L363.6,125.4Z M363.3,126.7 L363.5,126.6 L363.5,126.3 L363.4,126.1 L363.1,126.0 L363.1,126.3 L363.0,126.6 L363.3,126.7Z M345.7,138.9 L346.0,138.9 L345.8,138.4 L345.6,138.1 L345.3,138.2 L345.3,138.6 L345.5,139.0 L345.7,138.9Z M353.5,131.5 L353.6,131.2 L353.7,131.0 L353.5,130.9 L353.3,130.9 L353.1,131.1 L353.3,131.3 L353.5,131.5Z M350.8,128.5 L351.0,128.3 L351.1,128.1 L350.9,127.9 L350.7,127.9 L350.4,128.1 L350.6,128.3 L350.8,128.5Z M363.7,122.5 L364.0,122.3 L364.2,122.2 L364.0,122.0 L363.8,121.9 L363.5,122.0 L363.6,122.2 L363.7,122.5Z M361.3,152.3 L361.2,151.9 L361.0,151.7 L360.6,151.6 L360.5,151.8 L360.6,152.1 L360.9,152.2 L361.3,152.3Z M368.7,149.5 L368.9,149.1 L368.4,149.0 L368.0,148.9 L367.8,149.2 L368.1,149.5 L368.5,149.8 L368.7,149.5Z M371.1,147.6 L370.9,147.3 L370.7,147.0 L370.4,147.2 L370.3,147.4 L370.5,147.7 L370.8,147.7 L371.1,147.6Z M373.9,145.0 L373.9,144.7 L373.7,144.6 L373.4,144.6 L373.4,144.9 L373.4,145.2 L373.7,145.1 L373.9,145.0Z M372.5,145.7 L372.5,145.6 L372.4,145.5 L372.2,145.5 L372.1,145.7 L372.3,145.8 L372.4,145.9 L372.5,145.7Z M386.9,137.2 L386.7,137.2 L386.5,137.3 L386.4,137.4 L386.5,137.5 L386.7,137.5 L386.8,137.4 L386.9,137.2Z M386.1,141.1 L385.9,140.8 L385.5,140.8 L385.4,141.2 L385.4,141.6 L385.9,141.5 L386.3,141.5 L386.1,141.1Z M385.4,140.4 L385.2,140.3 L385.0,140.2 L385.0,140.4 L385.0,140.7 L385.2,140.7 L385.4,140.6 L385.4,140.4Z M389.5,133.9 L389.1,133.8 L388.8,134.3 L388.4,134.8 L388.9,134.8 L389.3,134.8 L389.6,134.3 L389.5,133.9Z M390.1,132.4 L389.7,132.5 L389.4,132.9 L389.2,133.5 L389.6,133.5 L390.1,133.4 L390.1,132.9 L390.1,132.4Z M390.9,132.3 L390.6,132.2 L390.5,132.6 L390.4,132.9 L390.7,133.1 L390.9,132.8 L391.2,132.5 L390.9,132.3Z M400.7,144.2 L400.3,143.9 L400.1,144.3 L399.9,144.7 L400.3,145.0 L400.7,144.9 L401.1,144.5 L400.7,144.2Z M402.6,139.4 L402.1,139.4 L401.7,139.6 L402.0,140.0 L402.3,140.4 L402.7,140.1 L402.9,139.8 L402.6,139.4Z M400.5,133.2 L400.2,133.5 L400.0,133.7 L400.1,133.9 L400.4,134.1 L400.7,133.9 L400.6,133.6 L400.5,133.2Z M394.0,122.5 L393.8,123.1 L393.6,123.6 L394.1,123.8 L394.6,123.8 L394.8,123.3 L394.5,122.9 L394.0,122.5Z M391.8,124.8 L391.5,125.2 L391.5,125.6 L391.7,126.0 L392.1,125.8 L392.5,125.5 L392.1,125.1 L391.8,124.8Z M391.6,111.6 L391.6,112.2 L391.9,112.7 L392.5,112.8 L392.7,112.2 L392.9,111.6 L392.2,111.6 L391.6,111.6Z M390.6,111.0 L390.3,111.4 L390.7,111.5 L391.0,111.6 L391.2,111.2 L391.2,110.8 L390.8,110.7 L390.6,111.0Z M392.5,109.3 L392.5,109.6 L392.8,109.9 L393.2,109.9 L393.5,109.8 L393.1,109.5 L392.8,109.1 L392.5,109.3Z M384.7,100.6 L384.6,100.8 L385.0,100.8 L385.3,100.8 L385.3,100.6 L385.1,100.4 L384.7,100.3 L384.7,100.6Z M373.1,91.9 L373.2,92.2 L373.9,92.0 L374.7,91.8 L374.3,91.6 L373.9,91.4 L373.2,91.6 L373.1,91.9Z M369.8,88.0 L370.1,88.2 L370.5,88.2 L370.6,87.9 L370.8,87.5 L370.3,87.6 L369.9,87.6 L369.8,88.0Z M366.3,81.0 L366.4,81.2 L367.0,81.0 L367.7,80.8 L367.4,80.6 L367.0,80.6 L366.3,80.8 L366.3,81.0Z M368.0,78.9 L368.3,79.0 L368.7,79.0 L368.9,78.8 L369.0,78.6 L368.6,78.6 L368.2,78.7 L368.0,78.9Z M369.3,78.1 L369.6,78.1 L370.0,78.1 L370.2,77.9 L370.1,77.8 L369.9,77.7 L369.6,77.9 L369.3,78.1Z M391.0,86.6 L391.0,87.1 L391.2,87.2 L391.5,87.1 L391.5,86.6 L391.5,86.1 L391.2,86.3 L391.0,86.6Z M390.4,80.8 L390.6,81.0 L390.9,81.1 L391.1,81.0 L391.3,80.9 L390.9,80.7 L390.6,80.6 L390.4,80.8Z M401.5,77.5 L401.3,78.0 L401.5,78.0 L401.8,78.0 L402.0,77.5 L401.9,77.1 L401.7,77.0 L401.5,77.5Z M411.9,73.9 L412.0,74.3 L412.5,74.8 L413.0,74.7 L413.5,74.6 L412.9,74.1 L412.2,73.7 L411.9,73.9Z M414.5,73.9 L414.7,74.2 L414.9,74.6 L415.2,74.5 L415.3,74.3 L415.3,74.0 L414.9,73.9 L414.5,73.9Z M409.4,74.2 L409.3,74.4 L409.8,74.6 L410.2,74.8 L410.2,74.5 L410.0,74.2 L409.6,74.0 L409.4,74.2Z M440.4,76.6 L440.1,76.9 L440.1,77.1 L440.4,77.0 L440.8,76.8 L440.8,76.6 L440.7,76.3 L440.4,76.6Z M443.8,78.3 L443.9,78.6 L444.1,79.0 L444.4,79.3 L444.5,79.1 L444.5,78.8 L444.1,78.5 L443.8,78.3Z M427.7,72.0 L427.6,72.3 L427.8,72.4 L428.0,72.5 L428.1,72.2 L428.3,71.9 L428.0,71.9 L427.7,72.0Z M452.2,69.6 L452.0,70.0 L451.9,70.4 L452.4,70.2 L452.9,69.9 L453.0,69.6 L452.7,69.5 L452.2,69.6Z M448.2,69.8 L448.1,70.0 L448.3,70.3 L448.6,70.3 L448.8,70.3 L448.6,70.0 L448.5,69.6 L448.2,69.8Z M393.7,167.6 L393.5,167.0 L393.3,167.2 L393.0,167.5 L393.3,167.9 L393.6,168.4 L393.8,168.1 L393.7,167.6Z M392.6,169.1 L392.4,168.5 L392.3,168.5 L392.3,168.9 L392.5,169.6 L392.6,169.7 L392.8,169.8 L392.6,169.1Z M396.2,165.3 L396.0,165.1 L395.6,165.2 L395.4,165.5 L395.4,165.8 L395.8,165.7 L396.3,165.5 L396.2,165.3Z M395.9,164.6 L395.8,164.5 L395.6,164.6 L395.5,164.8 L395.4,164.9 L395.7,164.9 L396.0,164.8 L395.9,164.6Z M389.5,171.7 L389.4,171.2 L389.0,171.4 L388.6,171.6 L388.8,172.1 L389.2,172.4 L389.6,172.2 L389.5,171.7Z M388.3,172.2 L388.2,171.9 L388.0,171.9 L387.8,172.2 L387.8,172.5 L388.1,172.5 L388.4,172.6 L388.3,172.2Z M389.3,172.8 L389.3,172.6 L389.0,172.7 L388.7,172.8 L388.8,172.9 L389.0,173.0 L389.3,172.9 L389.3,172.8Z M391.9,171.7 L391.8,171.6 L391.7,171.6 L391.6,171.7 L391.6,171.9 L391.7,171.9 L391.9,171.8 L391.9,171.7Z M393.6,163.6 L393.4,163.6 L393.1,163.6 L393.0,163.8 L393.1,163.9 L393.3,164.0 L393.4,163.8 L393.6,163.6Z M387.1,154.1 L386.8,154.0 L386.4,154.0 L386.2,154.2 L386.3,154.4 L386.5,154.5 L386.8,154.3 L387.1,154.1Z M387.3,153.3 L387.1,153.2 L386.9,153.1 L386.8,153.4 L386.8,153.6 L387.0,153.6 L387.2,153.6 L387.3,153.3Z M388.0,152.4 L387.9,152.2 L387.7,152.3 L387.5,152.5 L387.6,152.6 L387.8,152.6 L388.0,152.6 L388.0,152.4Z M374.8,168.9 L374.9,168.4 L374.7,168.5 L374.4,168.6 L374.5,169.1 L374.5,169.5 L374.7,169.4 L374.8,168.9Z M375.2,170.0 L375.2,169.8 L375.0,169.8 L374.7,169.8 L374.8,170.0 L374.9,170.2 L375.1,170.1 L375.2,170.0Z M377.7,167.8 L377.7,167.6 L377.5,167.6 L377.4,167.7 L377.3,167.8 L377.5,167.9 L377.7,167.9 L377.7,167.8Z M378.9,166.0 L378.9,165.5 L378.8,165.6 L378.7,165.7 L378.7,166.2 L378.8,166.4 L378.9,166.4 L378.9,166.0Z M375.4,163.4 L375.4,163.1 L375.2,163.2 L374.9,163.2 L375.0,163.4 L375.1,163.6 L375.3,163.6 L375.4,163.4Z M376.1,174.5 L376.0,174.3 L375.9,174.2 L375.8,174.4 L375.8,174.5 L375.9,174.7 L376.0,174.6 L376.1,174.5Z M375.2,171.2 L375.1,171.1 L375.0,171.0 L374.8,171.1 L374.9,171.2 L374.9,171.3 L375.1,171.3 L375.2,171.2Z M376.1,175.8 L376.0,175.7 L375.9,175.6 L375.8,175.7 L375.7,175.8 L375.9,175.9 L376.0,175.8 L376.1,175.8Z M378.6,179.7 L378.6,179.6 L378.5,179.7 L378.3,179.7 L378.3,179.7 L378.5,179.8 L378.6,179.8 L378.6,179.7Z M415.4,193.1 L415.2,193.0 L414.9,192.9 L415.0,193.2 L415.0,193.5 L415.3,193.5 L415.5,193.4 L415.4,193.1Z M411.4,189.7 L411.2,189.7 L410.9,189.8 L410.7,190.0 L410.8,190.1 L411.0,190.1 L411.2,189.9 L411.4,189.7Z M411.4,191.2 L411.3,191.0 L411.1,191.0 L411.1,191.2 L411.2,191.3 L411.4,191.5 L411.4,191.3 L411.4,191.2Z M409.1,191.9 L409.0,191.7 L408.5,192.0 L408.0,192.2 L408.2,192.4 L408.6,192.3 L409.1,192.1 L409.1,191.9Z M405.4,194.1 L405.2,194.0 L405.0,194.0 L405.0,194.2 L405.0,194.4 L405.2,194.5 L405.3,194.3 L405.4,194.1Z M403.6,192.4 L403.4,192.2 L403.3,192.2 L403.3,192.4 L403.4,192.6 L403.5,192.8 L403.6,192.6 L403.6,192.4Z M383.9,196.5 L383.7,196.3 L383.2,196.1 L383.0,196.4 L382.8,196.7 L383.3,196.8 L383.8,196.7 L383.9,196.5Z M384.9,195.8 L384.8,195.8 L384.6,195.8 L384.5,195.8 L384.4,195.9 L384.6,195.9 L384.9,195.9 L384.9,195.8Z M381.7,197.6 L381.5,197.5 L381.4,197.4 L381.3,197.5 L381.3,197.7 L381.4,197.8 L381.5,197.7 L381.7,197.6Z M354.8,211.9 L354.5,211.7 L354.3,211.4 L354.0,211.6 L353.8,211.8 L354.1,212.0 L354.5,212.0 L354.8,211.9Z M355.9,212.8 L355.9,212.5 L355.7,212.3 L355.5,212.5 L355.2,212.8 L355.5,212.9 L355.8,213.0 L355.9,212.8Z M358.4,212.7 L358.5,212.2 L358.3,212.2 L358.1,212.4 L358.0,212.8 L358.1,213.1 L358.3,213.2 L358.4,212.7Z M359.3,211.7 L359.3,211.5 L359.1,211.5 L358.9,211.5 L358.9,211.8 L359.0,211.9 L359.2,212.0 L359.3,211.7Z M352.8,210.6 L352.8,210.3 L352.7,210.2 L352.5,210.3 L352.5,210.6 L352.5,210.9 L352.7,210.7 L352.8,210.6Z M356.4,204.4 L356.1,204.2 L355.9,204.1 L355.7,204.1 L355.6,204.2 L355.8,204.3 L356.1,204.4 L356.4,204.4Z M314.8,147.5 L314.7,146.9 L314.6,146.1 L314.3,145.8 L314.1,145.5 L314.3,146.3 L314.6,147.0 L314.8,147.5Z M316.4,149.6 L316.4,149.6 L316.3,149.4 L316.3,149.3 L316.2,149.3 L316.2,149.4 L316.3,149.6 L316.4,149.6Z M289.8,145.9 L289.8,145.6 L289.7,144.9 L289.5,144.6 L289.4,144.3 L289.5,145.0 L289.6,145.8 L289.8,145.9Z M286.0,146.7 L286.7,146.5 L286.9,146.1 L286.3,146.1 L285.4,146.2 L285.3,146.5 L285.2,146.9 L286.0,146.7Z M289.8,147.1 L290.5,146.9 L290.4,146.7 L290.1,146.7 L289.4,146.8 L289.3,147.0 L289.2,147.2 L289.8,147.1Z M287.7,149.2 L288.4,149.0 L288.2,148.9 L288.1,148.9 L287.4,149.1 L287.0,149.2 L287.1,149.3 L287.7,149.2Z M282.0,156.5 L282.0,156.1 L282.0,155.6 L281.8,155.5 L281.6,155.4 L281.6,155.8 L281.8,156.2 L282.0,156.5Z M279.5,139.6 L279.8,139.5 L279.7,139.0 L279.6,138.6 L279.3,138.7 L279.1,139.1 L279.2,139.6 L279.5,139.6Z M276.4,132.2 L276.7,132.1 L276.8,132.0 L276.6,132.0 L276.3,132.0 L276.0,132.1 L276.2,132.2 L276.4,132.2Z M298.5,93.3 L298.8,93.3 L298.9,93.1 L298.8,92.9 L298.5,92.9 L298.2,92.8 L298.3,93.1 L298.5,93.3Z M299.0,88.6 L299.2,88.7 L299.3,88.6 L299.2,88.5 L299.0,88.4 L298.9,88.4 L298.8,88.5 L299.0,88.6Z M310.8,87.4 L310.9,87.4 L311.0,87.1 L311.2,86.8 L311.1,86.9 L311.0,87.0 L310.8,87.3 L310.8,87.4Z M309.1,88.5 L309.2,88.5 L309.3,88.4 L309.3,88.3 L309.2,88.2 L309.0,88.2 L309.0,88.4 L309.1,88.5Z M343.3,93.7 L343.8,94.2 L344.0,93.7 L344.3,93.3 L343.7,93.0 L343.1,92.8 L342.9,93.3 L343.3,93.7Z M341.9,93.3 L342.3,93.5 L342.5,93.3 L342.6,92.9 L342.2,92.8 L341.8,92.6 L341.8,93.0 L341.9,93.3Z M345.6,95.5 L346.1,96.0 L346.3,95.5 L346.6,95.0 L346.0,94.7 L345.4,94.6 L345.2,95.0 L345.6,95.5Z M348.3,95.5 L348.7,95.8 L349.1,95.8 L348.8,95.3 L348.5,94.8 L348.2,94.9 L347.9,95.0 L348.3,95.5Z M349.4,96.0 L349.7,96.0 L350.1,95.9 L350.0,95.5 L349.9,95.2 L349.6,95.4 L349.4,95.7 L349.4,96.0Z M348.7,96.5 L349.1,96.8 L349.3,96.7 L349.1,96.4 L348.8,96.0 L348.6,96.1 L348.3,96.1 L348.7,96.5Z M347.3,96.1 L347.5,96.3 L347.7,96.0 L347.8,95.8 L347.7,95.6 L347.4,95.7 L347.1,96.0 L347.3,96.1Z M344.8,96.3 L345.2,96.4 L345.4,96.3 L345.4,96.0 L345.1,95.8 L344.7,95.7 L344.8,96.0 L344.8,96.3Z M360.0,89.1 L360.0,89.2 L360.3,89.1 L360.4,88.9 L360.4,88.8 L360.2,88.8 L359.9,88.9 L360.0,89.1Z M358.1,93.1 L358.3,93.2 L358.5,93.1 L358.5,92.9 L358.5,92.7 L358.3,92.8 L358.1,92.9 L358.1,93.1Z M478.8,89.2 L478.3,90.3 L478.2,91.7 L479.4,92.0 L480.6,92.3 L480.4,90.8 L479.9,89.5 L478.8,89.2Z M452.2,80.5 L452.1,80.7 L452.2,80.9 L452.4,81.0 L452.6,81.0 L452.5,80.7 L452.3,80.5 L452.2,80.5Z M450.2,82.3 L450.4,82.7 L450.5,83.1 L450.8,83.3 L451.0,83.3 L450.8,82.9 L450.5,82.6 L450.2,82.3Z M456.0,177.3 L455.8,177.3 L455.5,177.8 L455.2,178.3 L455.4,178.2 L455.7,178.0 L456.0,177.5 L456.0,177.3Z M451.7,185.5 L451.5,185.4 L451.4,185.5 L451.4,185.7 L451.6,185.8 L451.8,185.9 L451.8,185.7 L451.7,185.5Z M468.3,180.0 L468.0,179.9 L467.6,179.8 L468.0,180.1 L468.4,180.4 L468.7,180.4 L468.6,180.3 L468.3,180.0Z M359.6,110.5 L358.3,110.6 L358.1,111.6 L357.3,111.4 L357.2,112.4 L356.1,113.2 L355.1,114.0 L354.1,114.5 L353.0,114.6 L352.5,115.8 L352.2,116.7 L351.1,117.2 L352.5,117.7 L352.7,118.5 L351.8,119.3 L351.1,120.4 L351.1,121.4 L350.8,122.3 L351.7,122.8 L351.2,123.5 L349.9,123.5 L351.1,124.0 L351.9,124.7 L353.1,124.4 L354.0,123.7 L355.3,123.8 L356.1,124.6 L355.2,125.2 L353.9,125.4 L352.9,125.8 L351.7,126.3 L352.4,126.7 L351.6,127.5 L350.2,127.5 L349.8,128.1 L351.1,128.3 L352.4,128.6 L353.3,129.0 L353.3,130.0 L352.5,130.6 L351.3,130.7 L349.9,130.5 L348.6,130.0 L348.7,128.9 " fill="none" stroke="#000" stroke-width="1.3" stroke-linejoin="round" stroke-linecap="round"/>
</g>
<ellipse cx="379.6" cy="125.9" rx="104.5" ry="103.7" fill="none" stroke="#3a0a14" stroke-width="1"/>
<text x="373.3" y="16.8" textLength="11.0" lengthAdjust="spacingAndGlyphs" class="lb">180</text>
<text x="377.5" y="240.8" textLength="3.8" lengthAdjust="spacingAndGlyphs" class="lb">0</text>
<text x="256.4" y="126.6" textLength="11.5" lengthAdjust="spacingAndGlyphs" class="lb">90W</text>
<text x="485.0" y="126.6" textLength="10.5" lengthAdjust="spacingAndGlyphs" class="lb">90E</text>
<text x="28.3" y="20.4" class="ti">(a)</text>
<text x="278.8" y="20.4" class="ti">(b)</text>
<rect x="513.6" y="26.5" width="7.899999999999977" height="37.4" fill="#bb1c2e"/>
<rect x="513.6" y="63.9" width="7.899999999999977" height="37.4" fill="#f4a582"/>
<rect x="513.6" y="101.3" width="7.899999999999977" height="37.3" fill="#f7f7f7"/>
<rect x="513.6" y="138.6" width="7.899999999999977" height="37.400000000000006" fill="#92c5de"/>
<rect x="513.6" y="176.0" width="7.899999999999977" height="37.599999999999994" fill="#2166ac"/>
<polygon points="513.6,26.5 517.55,17 521.5,26.5" fill="#74072a"/>
<polygon points="513.6,213.6 517.55,223.5 521.5,213.6" fill="#053061"/>
<path d="M513.6,26.5 L517.55,17 L521.5,26.5 L521.5,213.6 L517.55,223.5 L513.6,213.6 Z" fill="none" stroke="#444" stroke-width="0.5"/>
<line x1="521.5" y1="26.5" x2="524.0" y2="26.5" stroke="#222" stroke-width="0.7"/>
<text x="528.0" y="29.7" textLength="12" lengthAdjust="spacingAndGlyphs" class="cb">0.4</text>
<line x1="521.5" y1="63.9" x2="524.0" y2="63.9" stroke="#222" stroke-width="0.7"/>
<text x="528.0" y="67.1" textLength="12" lengthAdjust="spacingAndGlyphs" class="cb">0.2</text>
<line x1="521.5" y1="101.3" x2="524.0" y2="101.3" stroke="#222" stroke-width="0.7"/>
<text x="528.0" y="104.5" textLength="12" lengthAdjust="spacingAndGlyphs" class="cb">0.1</text>
<line x1="521.5" y1="138.6" x2="524.0" y2="138.6" stroke="#222" stroke-width="0.7"/>
<text x="528.4" y="141.8" textLength="15.6" lengthAdjust="spacingAndGlyphs" class="cb">-0.1</text>
<line x1="521.5" y1="176.0" x2="524.0" y2="176.0" stroke="#222" stroke-width="0.7"/>
<text x="528.4" y="179.2" textLength="15.6" lengthAdjust="spacingAndGlyphs" class="cb">-0.2</text>
<line x1="521.5" y1="213.6" x2="524.0" y2="213.6" stroke="#222" stroke-width="0.7"/>
<text x="528.4" y="216.8" textLength="15.6" lengthAdjust="spacingAndGlyphs" class="cb">-0.4</text>
<text x="519.8" y="236" text-anchor="middle" class="gp">gpm</text>
</svg>
</body></html>
